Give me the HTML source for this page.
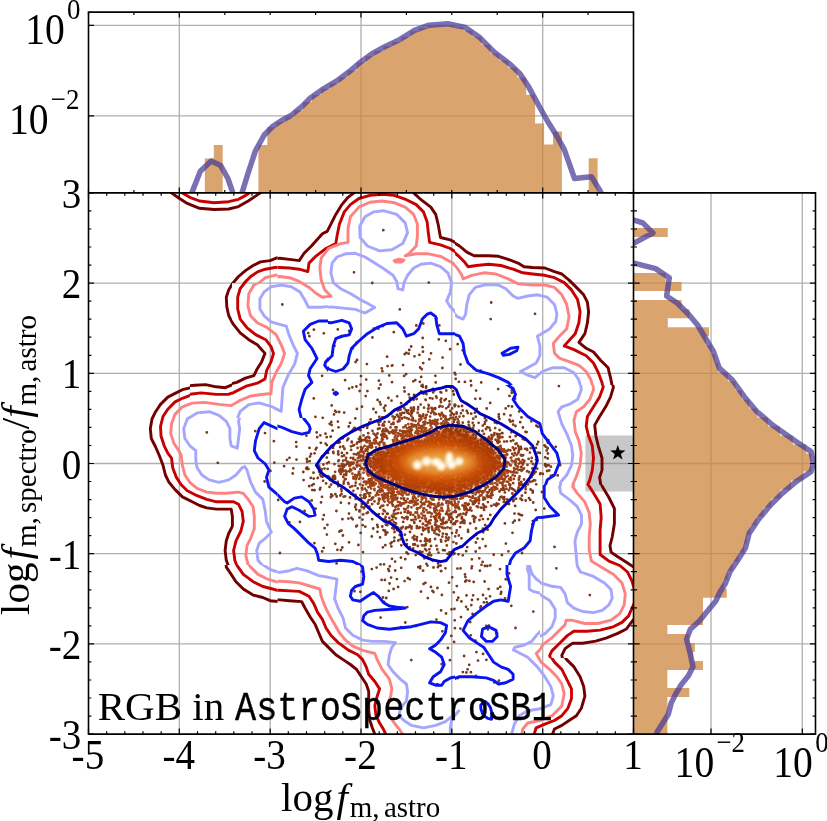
<!DOCTYPE html><html><head><meta charset="utf-8"><style>html,body{margin:0;padding:0;background:#fff;overflow:hidden}svg{display:block}</style></head><body>
<svg width="827" height="821" viewBox="0 0 827 821">
<rect width="827" height="821" fill="#fff"/>
<defs><clipPath id="cm"><rect x="88.5" y="192.9" width="545" height="541.2"/></clipPath><clipPath id="ct"><rect x="88.5" y="12.1" width="545" height="180.8"/></clipPath><clipPath id="cr"><rect x="633.5" y="192.9" width="182" height="541.2"/></clipPath></defs>
<path d="M179.3 192.9V734.1M179.3 12.1V192.9M270.2 192.9V734.1M361.0 192.9V734.1M361.0 12.1V192.9M451.8 192.9V734.1M542.7 192.9V734.1M542.7 12.1V192.9M88.5 643.9H633.5M633.5 643.9H815.5M88.5 553.7H633.5M633.5 553.7H815.5M88.5 463.5H633.5M633.5 463.5H815.5M88.5 373.3H633.5M633.5 373.3H815.5M88.5 283.1H633.5M633.5 283.1H815.5M88.5 25.4H633.5M88.5 115.8H633.5M802.3 192.9V734.1M711.0 192.9V734.1" stroke="#b0b0b0" stroke-width="1.3" fill="none"/>
<path d="M204.8 192.9V158.5H213.8V192.9ZM213.8 192.9V145.1H222.7V192.9ZM258.4 192.9V145.1H267.3V192.9ZM267.3 192.9V127.0H276.2V192.9ZM276.2 192.9V122.1H285.2V192.9ZM285.2 192.9V117.2H294.1V192.9ZM294.1 192.9V110.2H303.0V192.9ZM303.0 192.9V101.9H312.0V192.9ZM312.0 192.9V94.7H320.9V192.9ZM320.9 192.9V88.8H329.8V192.9ZM329.8 192.9V83.5H338.7V192.9ZM338.7 192.9V77.2H347.7V192.9ZM347.7 192.9V70.2H356.6V192.9ZM356.6 192.9V62.6H365.5V192.9ZM365.5 192.9V56.2H374.4V192.9ZM374.4 192.9V50.9H383.4V192.9ZM383.4 192.9V46.2H392.3V192.9ZM392.3 192.9V41.9H401.2V192.9ZM401.2 192.9V36.8H410.1V192.9ZM410.1 192.9V31.3H419.1V192.9ZM419.1 192.9V28.1H428.0V192.9ZM428.0 192.9V25.9H436.9V192.9ZM436.9 192.9V25.3H445.9V192.9ZM445.9 192.9V25.3H454.8V192.9ZM454.8 192.9V27.1H463.7V192.9ZM463.7 192.9V30.4H472.6V192.9ZM472.6 192.9V36.7H481.6V192.9ZM481.6 192.9V44.8H490.5V192.9ZM490.5 192.9V53.6H499.4V192.9ZM499.4 192.9V60.5H508.3V192.9ZM508.3 192.9V67.8H517.3V192.9ZM517.3 192.9V77.4H526.2V192.9ZM526.2 192.9V94.7H535.1V192.9ZM535.1 192.9V123.5H544.1V192.9ZM544.1 192.9V144.6H553.0V192.9ZM553.0 192.9V131.6H561.9V192.9ZM588.7 192.9V158.2H597.6V192.9Z" fill="#cd853f" fill-opacity="0.75"/>
<g clip-path="url(#ct)"><path d="M190.5 196.0L192.3 191.6L200.3 171.3L211.2 161.1L220.6 165.4L227.9 178.5L232.2 190.8L233.5 196.0M241.0 196.0L242.4 191.6L248.2 172.7L255.4 150.9L264.2 135.0L272.9 126.3L281.6 120.5L291.0 115.5L302.6 105.9L310.4 98.0L321.4 90.2L337.2 80.7L349.7 71.3L360.7 61.9L371.7 54.0L384.3 46.9L400.0 39.4L414.5 30.3L429.0 25.2L447.9 23.8L465.3 27.4L479.8 37.6L494.3 52.1L510.3 64.4L520.0 73.8L528.8 87.1L538.9 105.7L547.4 121.0L555.9 134.5L564.3 149.7L574.5 178.5L591.4 176.8L599.9 190.4L602.5 196.0" fill="none" stroke="#463a98" stroke-opacity="0.72" stroke-width="5.5" stroke-linejoin="round"/></g>
<path d="M633.5 228.0H667.8V237.0H633.5ZM633.5 273.1H665.6V282.1H633.5ZM633.5 282.1H681.6V291.1H633.5ZM633.5 300.1H681.6V309.2H633.5ZM633.5 309.2H689.4V318.2H633.5ZM633.5 318.2H667.8V327.2H633.5ZM633.5 327.2H709.0V336.2H633.5ZM633.5 336.2H705.9V345.2H633.5ZM633.5 345.2H711.4V354.3H633.5ZM633.5 354.3H715.0V363.3H633.5ZM633.5 363.3H718.2V372.3H633.5ZM633.5 372.3H727.9V381.3H633.5ZM633.5 381.3H735.6V390.3H633.5ZM633.5 390.3H742.0V399.4H633.5ZM633.5 399.4H749.3V408.4H633.5ZM633.5 408.4H757.5V417.4H633.5ZM633.5 417.4H768.0V426.4H633.5ZM633.5 426.4H779.9V435.4H633.5ZM633.5 435.4H792.8V444.5H633.5ZM633.5 444.5H806.2V453.5H633.5ZM633.5 453.5H811.3V462.5H633.5ZM633.5 462.5H811.4V471.5H633.5ZM633.5 471.5H803.5V480.5H633.5ZM633.5 480.5H791.1V489.6H633.5ZM633.5 489.6H780.5V498.6H633.5ZM633.5 498.6H771.4V507.6H633.5ZM633.5 507.6H763.6V516.6H633.5ZM633.5 516.6H756.4V525.6H633.5ZM633.5 525.6H750.4V534.7H633.5ZM633.5 534.7H746.7V543.7H633.5ZM633.5 543.7H744.3V552.7H633.5ZM633.5 552.7H738.7V561.7H633.5ZM633.5 561.7H732.7V570.7H633.5ZM633.5 570.7H727.6V579.8H633.5ZM633.5 579.8H723.9V588.8H633.5ZM633.5 588.8H726.8V597.8H633.5ZM633.5 597.8H703.0V606.8H633.5ZM633.5 606.8H703.0V615.8H633.5ZM633.5 615.8H703.0V624.9H633.5ZM633.5 624.9H667.4V633.9H633.5ZM633.5 633.9H689.0V642.9H633.5ZM633.5 642.9H694.8V651.9H633.5ZM633.5 651.9H693.0V660.9H633.5ZM633.5 660.9H703.0V670.0H633.5ZM633.5 670.0H667.4V679.0H633.5ZM633.5 679.0H667.4V688.0H633.5ZM633.5 688.0H689.3V697.0H633.5ZM633.5 697.0H667.4V706.0H633.5ZM633.5 706.0H667.4V715.1H633.5ZM633.5 715.1H667.4V724.1H633.5ZM633.5 724.1H667.4V734.1H633.5Z" fill="#cd853f" fill-opacity="0.75"/>
<g clip-path="url(#cr)"><path d="M630.0 219.5L634.0 220.2L642.8 222.9L652.9 233.0L642.8 238.4L634.0 243.0L630.0 245.0M630.0 262.5L634.0 263.1L655.6 268.6L669.3 277.8L666.6 296.0L677.5 303.3L688.5 314.3L697.6 325.0L706.2 339.5L713.4 351.4L719.3 368.1L732.4 380.0L744.3 396.7L756.3 411.0L772.9 425.3L796.7 442.0L811.0 451.5L813.4 463.4L811.0 471.7L796.7 481.2L782.5 493.1L770.5 505.0L758.6 519.3L749.1 533.6L745.5 547.9L739.6 557.4L730.0 571.7L725.3 583.6L720.0 592.0L715.8 601.0L706.7 611.9L699.4 621.0L690.3 629.3L686.6 639.3L690.3 653.9L693.0 666.7L688.4 675.8L681.1 684.9L675.6 694.1L671.1 703.2L668.3 714.2L657.4 731.5L655.0 738.0" fill="none" stroke="#463a98" stroke-opacity="0.72" stroke-width="5.5" stroke-linejoin="round"/></g>
<g clip-path="url(#cm)">
<rect x="585.4" y="435.5" width="48.1" height="56" fill="#808080" fill-opacity="0.43"/>
<defs><radialGradient id="rg" cx="0.5" cy="0.5" r="0.5"><stop offset="0" stop-color="#e49a3c"/><stop offset="0.3" stop-color="#da7a26"/><stop offset="0.65" stop-color="#cc5e1e"/><stop offset="1" stop-color="#bc4c18"/></radialGradient><filter id="bl" x="-50%" y="-50%" width="200%" height="200%"><feGaussianBlur stdDeviation="2"/></filter></defs>
<path d="M370.8 463.3L373.5 455.4L380.8 451.0L393.3 447.6L407.7 443.2L422.1 438.9L431.1 435.4L438.3 431.0L449.1 428.8L461.7 429.8L472.5 434.5L483.3 442.3L494.1 451.0L500.4 459.8L499.5 467.6L492.3 475.4L481.5 482.3L468.9 488.5L454.5 492.9L443.7 493.7L432.9 492.9L420.3 490.3L406.0 485.9L393.3 480.6L380.8 475.4L373.5 470.2Z" fill="url(#rg)" filter="url(#bl)"/>
<path d="M206.8 432.4h0M558.9 386.1h0M278.2 500.0h0M470.9 672.2h0M466.4 672.5h0M327.2 361.0h0M372.4 337.5h0M356.7 342.3h0M340.9 337.0h0M264.6 481.5h0M352.8 348.4h0M494.3 682.4h0M457.8 678.1h0M334.5 345.9h0M322.1 375.8h0M437.4 684.1h0M436.5 318.4h0M323.8 333.3h0M313.9 329.7h0M378.3 328.7h0M274.3 462.6h0M373.8 328.6h0M270.4 470.9h0M332.8 351.5h0M349.1 330.8h0M309.4 336.2h0M337.8 329.4h0M255.3 431.1h0M313.8 398.4h0M289.4 522.3h0M462.9 672.1h0M535.0 313.8h0M441.6 664.1h0M308.2 333.1h0M533.3 611.6h0M589.8 595.1h0M217.8 462.8h0M279.9 553.0h0M554.5 546.9h0M556.4 568.3h0M476.0 676.0h0M383.3 230.2h0M354.0 272.3h0M372.3 283.0h0M428.8 282.6h0M399.8 309.4h0M491.2 302.5h0M498.9 680.7h0M490.7 319.1h0M282.3 304.5h0M273.9 441.2h0M265.0 433.1h0M411.3 660.1h0M299.9 521.9h0M382.9 326.1h0M284.1 466.2h0M423.3 323.4h0M416.3 325.5h0M467.6 669.3h0M439.3 325.4h0M287.0 459.8h0M314.4 543.2h0M393.8 332.2h0M304.6 511.0h0M449.9 660.2h0M322.1 551.4h0M380.6 617.6h0M289.5 457.8h0M357.1 360.0h0M355.6 362.0h0M401.1 627.1h0M333.1 390.0h0M296.2 442.1h0M403.8 627.9h0M469.2 664.8h0M315.4 416.8h0M323.7 547.8h0M354.5 591.2h0M345.1 380.2h0M422.7 338.0h0M405.3 622.5h0M296.4 446.7h0M486.4 659.8h0M336.6 563.4h0M438.8 339.4h0M445.8 340.8h0M360.4 591.8h0M457.7 344.2h0M478.0 660.6h0M366.9 364.1h0M415.9 626.1h0M515.5 628.0h0M331.7 405.4h0M326.9 534.6h0M324.6 528.2h0M462.6 350.3h0M411.2 346.5h0M447.9 648.0h0M464.1 656.0h0M349.1 388.6h0M387.1 356.7h0M322.7 417.8h0M361.0 376.1h0M384.1 602.0h0M322.8 519.3h0M306.4 435.7h0M511.8 390.4h0M450.1 349.2h0M315.6 508.6h0M337.4 549.8h0M352.4 387.3h0M409.3 350.0h0M335.3 543.8h0M422.6 347.2h0M327.4 524.8h0M511.8 392.8h0M383.0 597.5h0M406.3 352.8h0M483.1 653.9h0M340.9 550.1h0M356.4 386.5h0M404.7 354.2h0M386.3 598.0h0M408.7 353.7h0M363.5 578.9h0M515.1 398.7h0M360.6 384.6h0M536.8 519.9h0M366.2 379.6h0M342.3 547.5h0M323.9 515.1h0M335.1 410.9h0M381.8 368.3h0M407.3 607.1h0M480.7 370.7h0M423.0 351.7h0M476.4 652.1h0M509.5 395.9h0M387.6 366.1h0M311.7 500.4h0M361.5 571.6h0M473.8 368.6h0M532.2 524.3h0M392.4 365.3h0M414.5 356.3h0M382.4 371.2h0M391.9 365.7h0M544.3 508.6h0M359.7 391.0h0M336.2 411.9h0M431.0 353.3h0M419.4 354.9h0M498.2 389.1h0M296.5 459.6h0M442.6 357.6h0M532.8 521.1h0M334.0 414.4h0M460.5 364.5h0M388.8 590.9h0M454.1 641.9h0M339.3 531.6h0M442.4 631.3h0M342.9 535.5h0M340.3 530.9h0M403.1 365.1h0M339.1 412.0h0M393.6 589.0h0M378.9 380.7h0M349.0 542.3h0M381.6 579.9h0M341.5 530.6h0M481.2 382.4h0M367.4 391.1h0M293.3 468.3h0M451.3 635.9h0M389.2 375.4h0M371.8 569.1h0M389.6 583.5h0M384.9 579.9h0M522.0 553.0h0M436.4 619.6h0M316.7 432.4h0M398.1 586.9h0M497.1 633.4h0M380.5 384.7h0M365.7 396.1h0M511.3 605.8h0M470.8 380.9h0M376.6 567.6h0M363.0 552.2h0M391.1 577.6h0M454.6 372.8h0M344.2 412.6h0M358.4 545.0h0M378.9 388.4h0M512.0 406.5h0M429.3 359.3h0M475.5 640.7h0M331.3 421.9h0M535.7 510.0h0M455.4 374.4h0M396.9 579.1h0M329.7 423.8h0M442.4 368.0h0M471.2 385.5h0M380.5 564.4h0M508.5 406.1h0M389.0 570.9h0M464.9 381.9h0M519.2 411.4h0M388.3 569.2h0M392.0 382.2h0M454.9 628.2h0M404.6 581.1h0M476.1 390.6h0M384.0 564.3h0M470.7 635.3h0M427.8 598.1h0M441.1 610.4h0M321.0 502.4h0M423.2 363.1h0M421.0 591.6h0M406.2 374.1h0M455.7 378.8h0M460.4 628.6h0M538.7 422.8h0M292.7 473.5h0M404.1 375.9h0M487.9 629.4h0M389.8 566.3h0M395.2 570.5h0M317.2 437.2h0M446.0 613.4h0M512.5 532.8h0M458.9 381.8h0M331.6 425.0h0M356.9 408.9h0M505.0 598.5h0M489.0 625.7h0M509.1 573.4h0M309.5 447.9h0M454.7 620.3h0M407.9 578.2h0M519.2 520.0h0M409.8 579.3h0M486.3 626.0h0M320.3 435.3h0M362.0 406.7h0M508.4 551.3h0M337.9 421.6h0M505.7 408.4h0M506.9 579.2h0M420.1 367.5h0M342.4 519.2h0M433.5 592.1h0M505.7 579.3h0M505.9 543.6h0M432.5 591.0h0M490.2 402.9h0M522.0 515.3h0M451.5 609.3h0M441.9 595.0h0M480.1 398.7h0M531.3 421.3h0M500.8 593.8h0M461.0 617.1h0M470.2 622.1h0M501.2 592.0h0M513.0 522.6h0M454.4 609.0h0M514.7 520.7h0M437.4 588.0h0M501.9 555.0h0M500.2 586.9h0M401.2 567.8h0M520.4 514.9h0M377.6 399.9h0M521.5 417.4h0M430.9 586.9h0M325.5 433.7h0M360.7 532.9h0M500.0 569.1h0M497.8 588.7h0M421.7 369.2h0M395.1 561.6h0M336.4 511.0h0M472.6 613.9h0M392.0 558.8h0M536.4 425.7h0M423.6 583.9h0M312.3 490.1h0M537.8 426.8h0M475.3 398.8h0M457.2 600.1h0M486.4 605.7h0M467.8 609.3h0M306.8 458.9h0M453.8 592.3h0M466.1 606.8h0M486.9 602.4h0M480.4 607.8h0M458.3 597.7h0M461.4 601.4h0M490.0 596.3h0M493.7 554.7h0M480.9 606.3h0M449.0 582.7h0M518.6 513.8h0M483.9 602.3h0M309.2 486.2h0M471.3 605.1h0M486.1 598.6h0M356.2 526.4h0M488.6 589.1h0M456.8 586.1h0M490.2 565.4h0M311.0 454.0h0M332.6 430.7h0M472.0 599.9h0M477.9 599.3h0M425.4 582.8h0M483.0 595.0h0M466.5 595.4h0M510.5 415.4h0M452.2 577.3h0M303.6 480.1h0M487.3 566.0h0M348.4 518.6h0M322.0 496.8h0M533.2 502.5h0M473.1 595.3h0M379.8 402.1h0M314.6 490.2h0M484.6 581.5h0M310.0 456.6h0M484.9 566.0h0M504.9 523.4h0M357.0 525.6h0M338.5 427.3h0M307.1 461.7h0M382.9 547.3h0M482.6 561.9h0M465.2 581.5h0M316.6 447.8h0M481.5 564.8h0M466.4 580.5h0M320.8 442.8h0M485.6 546.2h0M465.4 577.1h0M479.9 570.7h0M469.4 580.9h0M473.7 581.9h0M465.0 574.4h0M479.3 558.3h0M315.7 449.4h0M326.7 437.2h0M471.6 568.3h0M472.0 566.3h0M504.1 414.2h0M460.5 568.4h0M457.4 568.6h0M555.7 446.8h0M435.4 375.8h0M371.8 536.5h0M471.9 559.3h0M388.4 398.0h0M514.5 513.6h0M355.3 418.4h0M479.6 548.0h0M486.7 408.5h0M475.7 551.5h0M451.0 387.8h0M314.6 453.3h0M352.7 519.3h0M380.6 404.4h0M404.3 387.6h0M309.6 461.2h0M520.2 422.2h0M548.4 440.2h0M373.4 409.0h0M312.0 485.3h0M351.4 517.9h0M413.3 381.3h0M441.3 571.1h0M441.0 571.1h0M415.3 380.1h0M445.5 568.3h0M350.0 422.9h0M560.2 465.2h0M498.8 414.4h0M330.7 436.7h0M385.3 545.2h0M482.7 539.1h0M400.9 557.7h0M453.1 391.2h0M462.8 555.3h0M303.3 472.0h0M421.2 376.9h0M307.1 467.3h0M306.2 468.5h0M362.6 525.2h0M541.9 492.0h0M466.2 551.2h0M530.3 499.9h0M512.9 421.0h0M547.7 442.5h0M475.9 542.5h0M365.3 526.7h0M325.7 443.6h0M405.3 559.2h0M349.0 513.6h0M509.5 420.0h0M313.7 484.1h0M397.2 396.3h0M319.9 489.5h0M391.5 400.6h0M348.7 426.5h0M487.6 529.7h0M458.5 554.3h0M557.7 475.4h0M477.5 538.6h0M404.6 391.5h0M380.1 537.4h0M498.8 416.9h0M307.7 469.2h0M467.2 547.1h0M453.8 394.5h0M391.4 546.4h0M510.5 421.7h0M440.6 565.6h0M308.4 468.9h0M437.9 567.2h0M483.2 532.2h0M522.9 427.5h0M385.4 405.7h0M418.3 567.2h0M326.9 445.1h0M476.8 408.8h0M330.9 497.2h0M435.7 382.4h0M423.1 570.7h0M438.8 565.8h0M525.7 500.5h0M420.2 568.3h0M529.0 498.2h0M446.3 390.5h0M419.9 381.8h0M376.0 412.4h0M320.4 487.8h0M547.5 447.9h0M547.7 448.3h0M383.9 407.9h0M453.6 554.2h0M454.5 553.5h0M390.6 543.5h0M499.4 419.1h0M545.5 446.5h0M544.5 445.4h0M513.1 424.6h0M515.2 505.9h0M433.5 567.5h0M359.5 517.6h0M515.5 426.0h0M310.8 477.9h0M461.7 546.9h0M373.2 528.5h0M420.3 566.3h0M377.5 531.8h0M475.9 534.8h0M362.5 519.6h0M483.0 528.6h0M526.6 432.1h0M438.1 563.4h0M340.9 502.7h0M546.7 450.4h0M449.7 554.8h0M525.5 431.8h0M460.4 546.6h0M332.4 495.7h0M391.8 542.3h0M547.9 453.5h0M331.2 494.4h0M522.0 500.0h0M552.6 475.4h0M452.1 551.8h0M538.2 442.0h0M485.2 525.2h0M322.1 456.4h0M532.7 492.5h0M313.7 478.6h0M353.8 428.3h0M331.5 445.8h0M550.9 466.7h0M406.5 552.5h0M408.1 553.8h0M384.8 410.6h0M447.5 553.8h0M354.8 428.0h0M408.8 394.4h0M449.6 552.2h0M550.9 475.8h0M547.7 458.5h0M385.6 534.7h0M370.7 419.4h0M462.0 406.0h0M422.5 385.0h0M532.8 490.9h0M336.7 496.5h0M421.5 385.9h0M352.4 430.6h0M353.4 430.0h0M474.9 412.7h0M394.2 540.9h0M440.5 392.1h0M333.5 445.8h0M441.2 392.6h0M548.6 465.2h0M537.1 444.3h0M520.5 498.6h0M337.4 442.6h0M377.8 527.1h0M545.2 457.3h0M342.8 438.3h0M352.8 431.1h0M549.3 470.4h0M328.1 452.9h0M355.0 429.9h0M335.4 494.2h0M427.5 565.6h0M476.0 528.4h0M401.3 545.3h0M319.0 465.6h0M488.0 519.1h0M313.5 472.7h0M333.0 447.9h0M356.2 509.6h0M422.9 386.8h0M456.3 543.5h0M546.9 465.3h0M385.4 531.9h0M484.9 418.2h0M363.2 514.4h0M338.9 442.8h0M383.4 530.1h0M401.1 403.2h0M359.4 511.4h0M497.0 423.2h0M317.7 478.0h0M339.8 442.2h0M377.3 525.0h0M432.7 560.5h0M458.6 406.4h0M509.0 504.1h0M379.3 416.9h0M494.9 422.6h0M349.0 503.3h0M369.4 422.5h0M432.8 388.9h0M461.5 538.3h0M387.3 532.6h0M363.3 426.1h0M409.7 397.7h0M426.4 563.8h0M385.1 530.7h0M466.8 411.0h0M546.1 466.4h0M415.7 555.1h0M513.3 501.2h0M414.0 394.8h0M521.9 495.7h0M434.3 390.5h0M449.4 401.3h0M454.7 404.7h0M545.2 464.2h0M359.5 510.5h0M326.8 457.6h0M319.5 467.6h0M547.1 471.0h0M394.4 537.6h0M530.6 489.5h0M455.4 405.3h0M445.8 399.1h0M539.9 452.9h0M444.8 550.3h0M398.3 540.5h0M545.0 465.3h0M355.2 507.0h0M535.9 447.9h0M468.1 531.8h0M471.2 413.7h0M525.4 492.7h0M363.2 427.0h0M426.2 386.4h0" stroke="#6c2706" stroke-width="2.8" stroke-linecap="round" fill="none" stroke-opacity="0.92"/>
<path d="M359.3 429.4h0M329.5 486.9h0M507.9 503.7h0M516.0 498.7h0M367.6 424.6h0M340.3 495.5h0M490.3 514.9h0M372.2 519.2h0M519.9 435.3h0M536.2 484.3h0M513.7 499.9h0M486.3 420.4h0M323.1 480.8h0M326.1 483.4h0M382.3 526.5h0M443.0 550.2h0M462.7 410.4h0M453.4 542.1h0M323.4 464.6h0M333.2 451.9h0M421.1 391.5h0M538.0 452.7h0M482.9 519.1h0M454.7 406.3h0M426.0 387.8h0M467.8 413.2h0M517.2 434.7h0M411.7 398.7h0M475.8 416.7h0M382.2 417.4h0M406.7 545.1h0M319.7 470.4h0M367.8 425.6h0M524.9 439.9h0M444.5 400.3h0M343.7 496.7h0M438.5 552.6h0M468.0 529.8h0M433.2 392.4h0M409.8 547.2h0M416.7 395.6h0M360.5 430.2h0M319.1 471.7h0M522.8 438.9h0M348.2 438.7h0M366.7 513.2h0M441.3 398.6h0M333.5 453.0h0M418.0 553.3h0M511.4 432.3h0M400.6 539.3h0M449.6 404.4h0M424.4 558.3h0M446.8 545.4h0M429.9 390.7h0M321.7 469.1h0M479.5 520.0h0M409.2 401.7h0M406.9 544.1h0M355.9 504.7h0M341.5 493.9h0M347.2 440.3h0M383.8 417.7h0M458.8 535.5h0M506.4 502.1h0M413.1 548.3h0M406.6 404.1h0M391.2 413.7h0M321.0 476.2h0M422.8 556.0h0M340.2 447.0h0M413.7 399.3h0M345.2 496.3h0M485.0 421.8h0M428.2 558.3h0M436.1 396.4h0M327.1 463.3h0M321.4 471.2h0M368.0 512.4h0M413.7 399.8h0M367.1 427.8h0M331.2 484.6h0M397.9 410.5h0M377.9 421.8h0M440.6 400.1h0M320.1 474.4h0M431.1 555.3h0M322.6 476.7h0M515.6 436.2h0M537.0 457.1h0M525.6 489.2h0M530.7 448.1h0M542.9 473.9h0M394.5 532.0h0M474.2 521.8h0M328.8 462.2h0M436.6 397.8h0M427.3 557.7h0M399.6 409.9h0M455.2 536.3h0M324.5 468.6h0M322.9 476.3h0M363.8 508.3h0M423.6 393.8h0M385.8 524.6h0M361.7 506.7h0M425.0 392.7h0M400.8 409.6h0M416.6 399.0h0M437.3 549.5h0M378.4 422.4h0M380.4 421.4h0M419.8 551.3h0M452.1 408.4h0M399.7 535.1h0M481.5 515.7h0M503.8 501.9h0M338.2 451.5h0M387.3 525.2h0M535.1 480.4h0M343.2 446.5h0M420.9 551.8h0M480.8 516.0h0M460.9 413.3h0M429.2 554.9h0M448.4 406.7h0M470.2 523.4h0M350.0 497.5h0M473.2 418.7h0M507.3 499.4h0M406.8 540.1h0M404.3 408.2h0M441.0 402.2h0M401.3 535.6h0M536.1 459.7h0M496.3 505.8h0M341.5 490.8h0M448.1 539.8h0M392.3 528.2h0M474.2 519.9h0M540.5 473.2h0M428.1 554.7h0M534.2 480.2h0M413.3 544.5h0M498.5 504.1h0M422.5 551.8h0M324.5 475.8h0M364.6 507.1h0M495.2 428.1h0M499.6 430.0h0M447.9 539.3h0M445.7 541.0h0M394.2 529.0h0M540.2 474.1h0M484.7 423.9h0M525.6 486.8h0M532.7 481.2h0M456.3 532.6h0M474.0 519.2h0M497.2 504.4h0M376.9 515.5h0M496.3 504.9h0M429.6 552.7h0M426.5 394.2h0M456.6 412.5h0M338.2 454.0h0M392.6 416.4h0M448.9 537.6h0M330.0 479.9h0M415.0 544.7h0M394.5 528.4h0M400.0 532.6h0M475.5 517.5h0M397.2 530.3h0M414.6 544.1h0M341.3 489.1h0M327.7 468.9h0M527.9 484.3h0M432.5 398.6h0M529.9 452.6h0M338.5 454.6h0M333.2 482.1h0M525.4 485.9h0M537.2 468.6h0M463.4 416.2h0M351.7 441.6h0M526.8 449.0h0M504.5 499.3h0M417.8 546.0h0M362.1 503.8h0M530.3 481.9h0M338.3 486.2h0M456.8 530.3h0M527.2 449.9h0M384.2 519.4h0M436.5 545.8h0M393.3 526.2h0M397.2 414.8h0M397.0 415.0h0M355.7 498.9h0M527.7 483.6h0M344.5 448.6h0M386.0 520.4h0M496.7 503.4h0M385.7 520.2h0M478.6 422.8h0M446.2 408.3h0M379.0 424.8h0M368.5 507.6h0M327.7 476.2h0M441.2 541.7h0M460.1 527.1h0M430.0 398.1h0M509.9 436.9h0M384.6 422.0h0M494.1 504.7h0M344.4 449.1h0M404.9 534.7h0M456.6 413.8h0M405.9 410.2h0M334.8 482.5h0M400.2 413.6h0M452.0 533.1h0M351.8 442.4h0M446.1 537.5h0M531.7 457.9h0M450.3 411.0h0M525.1 448.8h0M502.4 433.2h0M491.4 505.9h0M442.5 406.7h0M329.1 477.0h0M331.1 478.8h0M518.0 490.0h0M388.9 521.6h0M378.9 514.2h0M464.5 523.1h0M512.3 493.5h0M402.4 412.8h0M363.1 503.0h0M484.1 509.9h0M501.8 433.2h0M365.1 504.3h0M489.4 427.8h0M341.9 452.9h0M411.0 408.0h0M473.7 516.2h0M389.4 521.4h0M440.0 405.9h0M429.4 549.3h0M503.1 498.6h0M395.0 417.2h0M360.1 437.0h0M487.4 427.1h0M426.4 550.4h0M397.6 527.4h0M359.3 499.8h0M425.1 549.1h0M534.6 467.9h0M535.7 471.8h0M522.8 485.8h0M440.9 539.8h0M369.5 506.6h0M482.8 425.6h0M472.7 516.2h0M463.3 522.8h0M395.1 525.1h0M533.0 464.1h0M408.3 410.3h0M515.1 490.9h0M383.0 424.1h0M513.2 440.4h0M333.0 478.9h0M363.5 435.4h0M404.2 412.9h0M334.5 464.2h0M459.5 416.6h0M414.2 539.5h0M351.1 493.4h0M446.8 534.5h0M525.6 483.2h0M413.8 407.4h0M451.7 413.2h0M425.5 399.6h0M525.4 483.3h0M531.4 461.4h0M407.0 411.6h0M347.7 490.6h0M400.9 415.0h0M398.3 416.5h0M504.2 497.1h0M523.4 484.6h0M422.0 545.3h0M439.3 406.8h0M385.6 517.0h0M358.9 439.0h0M464.4 520.9h0M400.6 528.2h0M453.9 414.5h0M412.7 537.7h0M393.9 419.0h0M516.5 443.4h0M499.3 499.7h0M431.0 546.0h0M520.8 447.0h0M528.4 480.4h0M425.7 400.1h0M464.3 520.7h0M446.2 534.1h0M401.5 528.5h0M518.6 487.7h0M389.0 421.8h0M461.9 522.2h0M368.2 433.2h0M520.9 447.6h0M337.8 482.0h0M485.9 506.9h0M416.9 540.4h0M442.4 536.6h0M460.6 522.9h0M531.6 477.0h0M372.5 430.8h0M462.0 521.8h0M382.5 425.4h0M333.1 477.6h0M360.3 438.6h0M394.0 522.2h0M461.4 522.2h0M411.9 409.7h0M483.5 508.0h0M533.4 470.2h0M534.3 473.3h0M396.0 523.5h0M424.1 545.5h0M351.0 446.3h0M382.8 513.8h0M391.7 520.2h0M472.7 422.8h0M414.0 408.7h0M522.4 484.4h0M338.9 460.3h0M355.5 495.0h0M338.3 461.1h0M420.7 404.6h0M342.0 456.3h0M532.4 468.5h0M335.1 478.8h0M528.6 458.9h0M407.4 412.7h0M463.5 520.0h0M389.3 518.0h0M521.2 448.9h0M412.6 409.9h0M532.8 475.0h0M518.1 446.0h0M367.6 503.0h0M359.9 439.6h0M333.0 476.4h0M515.5 444.0h0M399.5 417.4h0M392.4 519.8h0M416.6 538.5h0M499.4 434.4h0M532.8 471.8h0M532.9 472.2h0M490.2 430.3h0M418.2 407.1h0M361.5 498.4h0M384.0 425.5h0M510.9 441.1h0M411.2 411.4h0M402.7 527.0h0M468.6 422.0h0M420.6 541.1h0M353.2 445.5h0M520.5 484.8h0M425.7 545.0h0M414.3 536.0h0M456.0 417.1h0M450.2 528.2h0M501.6 496.7h0M519.1 447.9h0M378.0 429.0h0M442.9 533.7h0M500.5 497.2h0M354.1 445.1h0M497.1 433.8h0M344.0 455.5h0M486.0 429.0h0M357.5 442.3h0M410.0 532.0h0M513.4 489.4h0M481.1 507.7h0M379.6 428.4h0M405.7 528.5h0M497.1 433.9h0M435.1 539.0h0M360.1 440.5h0M367.9 501.8h0M455.0 524.0h0M335.1 476.9h0M417.0 537.1h0M520.2 484.4h0M450.6 415.3h0M484.0 505.8h0M413.5 411.0h0M519.3 485.0h0M411.4 412.3h0M408.9 413.7h0M519.2 449.0h0M361.4 440.0h0M372.2 504.1h0M361.2 440.1h0M426.0 543.6h0M435.3 408.2h0M334.4 475.6h0M494.4 433.1h0M356.8 443.6h0M343.6 483.7h0M359.2 441.8h0M502.4 437.2h0M347.0 453.2h0M461.7 518.4h0M387.0 513.7h0M438.8 535.0h0M453.4 524.1h0M406.3 527.5h0" stroke="#792b05" stroke-width="2.8" stroke-linecap="round" fill="none" stroke-opacity="0.92"/>
<path d="M429.8 541.6h0M454.4 523.1h0M457.3 521.1h0M418.0 409.3h0M434.7 408.4h0M387.8 513.8h0M353.4 490.8h0M428.6 404.9h0M402.0 418.1h0M456.2 521.5h0M383.9 510.9h0M457.7 419.1h0M335.1 471.8h0M392.7 516.8h0M393.2 517.2h0M456.1 521.4h0M447.6 527.4h0M364.0 497.8h0M360.3 495.3h0M399.1 419.7h0M523.2 455.1h0M411.8 413.2h0M338.7 466.0h0M430.0 540.5h0M393.4 422.6h0M365.7 437.9h0M435.0 409.1h0M385.0 511.3h0M361.0 441.2h0M434.4 408.8h0M428.8 405.7h0M391.9 515.8h0M473.8 425.4h0M351.1 449.9h0M465.8 514.7h0M425.0 540.9h0M364.9 498.0h0M395.9 518.4h0M461.9 516.9h0M453.2 417.7h0M522.9 455.4h0M500.3 436.9h0M383.5 509.9h0M408.1 527.3h0M380.2 507.7h0M404.6 417.4h0M367.3 437.1h0M441.8 413.0h0M478.2 507.2h0M487.9 502.1h0M527.5 464.9h0M401.8 418.8h0M521.3 481.8h0M445.0 528.1h0M429.9 539.5h0M465.9 514.0h0M368.7 500.1h0M363.3 440.1h0M393.9 516.5h0M524.1 479.5h0M511.7 488.5h0M471.5 510.6h0M431.5 408.0h0M436.6 534.2h0M432.9 408.8h0M483.1 504.4h0M365.5 438.6h0M368.1 437.0h0M343.1 460.7h0M350.2 487.0h0M391.4 424.2h0M508.8 490.2h0M518.8 451.0h0M529.1 472.2h0M427.3 540.8h0M373.6 433.7h0M411.0 414.8h0M411.4 528.6h0M424.0 407.7h0M439.6 531.3h0M519.1 483.0h0M504.9 492.4h0M506.9 441.4h0M497.8 436.2h0M343.9 481.5h0M477.9 506.6h0M409.3 526.7h0M515.6 448.3h0M403.2 521.9h0M343.9 481.3h0M397.7 421.7h0M443.1 528.0h0M340.8 465.8h0M451.0 522.3h0M466.6 512.4h0M518.7 451.9h0M425.3 538.4h0M342.2 463.8h0M346.1 458.0h0M499.9 437.7h0M427.0 539.7h0M393.6 423.9h0M368.8 437.3h0M524.4 460.8h0M365.7 496.9h0M521.4 455.7h0M399.6 421.1h0M363.8 495.5h0M520.8 454.9h0M454.9 419.6h0M443.3 415.1h0M451.1 521.4h0M463.3 513.7h0M450.6 418.1h0M442.3 527.5h0M411.2 526.6h0M462.8 422.7h0M411.3 415.8h0M410.0 525.6h0M476.7 506.3h0M494.2 435.1h0M411.7 526.8h0M348.5 484.1h0M499.2 437.7h0M417.7 412.7h0M458.4 421.2h0M383.1 429.5h0M428.6 408.5h0M406.7 418.1h0M445.6 416.3h0M371.0 499.7h0M468.7 425.0h0M527.3 471.2h0M456.9 517.1h0M421.8 534.3h0M339.2 470.5h0M340.1 468.8h0M434.4 532.8h0M438.5 529.7h0M469.0 510.1h0M441.8 527.3h0M498.0 437.2h0M432.2 410.6h0M393.7 513.6h0M440.9 414.6h0M438.6 529.4h0M378.0 503.7h0M527.0 471.3h0M523.9 461.9h0M345.6 460.2h0M381.7 505.9h0M428.0 408.6h0M365.4 440.4h0M374.5 501.4h0M369.4 437.8h0M510.1 487.8h0M452.8 519.1h0M458.9 515.3h0M470.2 509.0h0M339.4 471.5h0M432.6 411.3h0M522.7 459.9h0M438.9 414.1h0M518.2 453.0h0M512.8 447.5h0M385.7 428.7h0M453.8 420.0h0M459.9 514.5h0M460.5 514.1h0M352.3 486.2h0M342.2 466.6h0M395.5 513.9h0M378.5 503.3h0M348.1 482.8h0M458.4 515.1h0M467.3 510.1h0M340.3 470.5h0M446.8 522.3h0M434.6 531.0h0M469.3 425.8h0M364.6 494.4h0M445.2 523.0h0M482.5 430.9h0M443.4 416.5h0M504.2 441.6h0M446.5 522.0h0M440.0 415.3h0M416.8 528.1h0M343.8 465.0h0M434.3 412.9h0M383.3 505.6h0M377.6 433.5h0M491.1 497.8h0M435.8 529.3h0M440.2 415.5h0M365.0 494.4h0M402.1 517.3h0M439.4 526.4h0M491.5 435.0h0M442.7 524.0h0M404.2 518.4h0M470.5 507.7h0M365.4 494.4h0M376.5 434.4h0M448.8 519.8h0M514.1 449.8h0M438.0 527.0h0M344.9 479.0h0M435.9 528.5h0M443.0 523.4h0M357.6 448.0h0M372.4 498.6h0M457.5 422.2h0M435.8 414.1h0M375.4 435.2h0M478.8 503.3h0M435.9 528.0h0M382.3 431.5h0M473.2 427.8h0M390.5 427.4h0M408.8 419.0h0M522.8 463.5h0M441.2 524.1h0M418.8 528.0h0M449.0 419.4h0M342.6 469.1h0M504.1 490.1h0M343.8 466.9h0M343.2 476.9h0M466.7 509.0h0M506.4 488.7h0M432.4 530.0h0M345.8 479.1h0M397.8 513.2h0M372.2 497.9h0M341.6 471.6h0M451.4 517.2h0M416.9 526.1h0M394.0 510.8h0M357.7 488.4h0M369.6 496.2h0M386.5 429.6h0M407.3 519.1h0M522.8 464.5h0M524.0 468.5h0M434.5 414.2h0M367.4 440.7h0M340.7 474.0h0M449.4 518.0h0M423.3 530.5h0M464.5 509.7h0M518.8 479.8h0M443.0 522.0h0M450.5 517.3h0M428.7 532.0h0M428.2 411.6h0M445.6 418.6h0M347.5 461.6h0M431.1 413.1h0M342.3 471.5h0M384.0 431.2h0M412.7 418.0h0M423.0 529.6h0M521.9 463.2h0M420.0 527.3h0M492.1 436.2h0M345.6 465.2h0M414.4 522.9h0M450.6 516.5h0M458.8 423.5h0M419.6 415.1h0M457.9 423.1h0M432.3 528.3h0M436.4 525.3h0M406.2 517.1h0M449.1 517.1h0M478.9 430.7h0M442.2 521.3h0M447.3 419.6h0M428.4 530.7h0M423.3 528.8h0M355.3 485.7h0M414.2 522.1h0M373.2 497.4h0M411.4 520.1h0M516.6 454.8h0M510.1 485.4h0M343.3 471.0h0M350.7 457.8h0M453.8 422.0h0M406.8 517.0h0M513.2 483.2h0M379.0 500.7h0M407.7 517.5h0M366.7 442.2h0M464.6 508.5h0M347.3 463.5h0M400.8 512.9h0M419.3 415.9h0M422.9 527.6h0M498.4 440.0h0M520.4 461.8h0M499.5 491.5h0M353.9 454.1h0M519.1 478.3h0M425.2 529.2h0M483.3 499.7h0M489.6 496.6h0M514.8 452.9h0M360.9 447.1h0M485.1 498.8h0M395.5 509.6h0M473.8 504.0h0M445.4 419.5h0M435.0 524.7h0M387.6 505.1h0M492.6 495.0h0M443.2 519.3h0M412.9 418.9h0M431.9 526.6h0M423.2 414.5h0M510.3 484.7h0M472.9 504.2h0M502.1 489.8h0M428.6 528.5h0M487.9 497.2h0M455.9 512.1h0M478.8 431.2h0M499.5 491.2h0M465.9 507.3h0M518.9 459.7h0M470.2 428.1h0M413.3 519.8h0M386.1 431.2h0M429.0 527.8h0M522.4 469.9h0M518.4 459.0h0M344.0 474.7h0M492.2 437.1h0M368.8 493.7h0M348.7 462.5h0M362.5 489.6h0M440.8 519.9h0M411.6 419.9h0M489.5 496.2h0M464.2 507.7h0M521.5 467.1h0M451.4 513.7h0M369.7 440.9h0M474.7 502.9h0M387.6 430.7h0M427.5 528.0h0M441.1 418.7h0M490.8 495.4h0M420.2 416.6h0M443.4 517.9h0M435.6 522.5h0M367.5 492.6h0M448.4 515.0h0M503.6 488.3h0M503.3 488.5h0M453.7 512.1h0M345.5 470.7h0M437.0 521.0h0M450.0 513.8h0M517.8 459.2h0M520.9 466.8h0M479.1 500.5h0M348.7 463.9h0M501.2 489.5h0M465.4 506.5h0M421.9 416.3h0M483.9 433.9h0M395.4 427.4h0M423.2 415.8h0M499.6 441.7h0M415.8 519.3h0M376.5 437.1h0M459.3 509.1h0M519.6 476.4h0M422.9 523.9h0M435.7 521.2h0M509.1 484.5h0M423.0 523.9h0M521.6 470.8h0M398.3 509.1h0M345.4 474.8h0M425.6 525.5h0M455.4 510.7h0M378.9 498.6h0M384.5 501.6h0M349.0 464.3h0M398.5 509.0h0M487.4 496.4h0M461.3 425.8h0M379.7 498.9h0M362.1 488.2h0M426.7 414.8h0M495.6 439.7h0M468.2 504.9h0M510.4 450.3h0M420.1 521.1h0M413.0 420.4h0M484.6 497.6h0M476.3 501.3h0M346.2 475.1h0M392.8 505.7h0M396.6 427.3h0M404.7 511.9h0M370.2 493.2h0M439.5 517.9h0M430.0 523.4h0M353.3 457.9h0M427.3 524.9h0M395.5 506.9h0M364.6 445.9h0M426.2 415.4h0M381.2 434.9h0M410.5 514.7h0M382.9 434.0h0M518.9 463.6h0M356.2 454.4h0M407.6 512.9h0M362.6 447.8h0M366.4 490.5h0M415.2 517.0h0M392.9 505.2h0M436.2 519.0h0M464.0 506.1h0M446.0 513.9h0M491.3 494.0h0M458.8 508.2h0M346.2 473.1h0M346.8 471.6h0M361.4 449.1h0M520.4 469.9h0M483.3 497.6h0M355.8 482.7h0M356.5 454.4h0M430.1 416.6h0M468.8 503.9h0M438.8 517.0h0M435.1 518.9h0M462.7 426.9h0M383.3 434.1h0M497.6 441.4h0M439.6 516.4h0M353.2 459.1h0M489.0 436.9h0M498.1 441.8h0M428.0 522.6h0" stroke="#862e05" stroke-width="2.8" stroke-linecap="round" fill="none" stroke-opacity="0.92"/>
<path d="M505.6 485.7h0M383.0 499.5h0M447.1 512.7h0M408.5 512.4h0M375.8 495.5h0M413.3 514.9h0M418.6 517.8h0M503.0 487.3h0M377.0 437.8h0M428.0 522.1h0M446.4 422.0h0M467.1 504.2h0M358.1 453.0h0M513.8 455.6h0M349.6 466.2h0M427.9 522.1h0M351.2 463.0h0M389.3 502.6h0M473.8 501.4h0M361.3 449.7h0M351.5 462.5h0M435.2 517.9h0M430.7 520.2h0M396.8 506.2h0M477.0 500.0h0M452.7 424.0h0M421.2 418.4h0M429.0 521.0h0M472.6 501.8h0M443.5 421.3h0M425.8 521.2h0M396.8 506.0h0M456.7 425.3h0M497.2 441.6h0M374.8 439.4h0M486.9 495.4h0M365.0 488.6h0M478.9 499.0h0M384.4 434.0h0M392.0 503.5h0M410.7 512.7h0M512.2 453.9h0M419.2 419.4h0M369.6 443.1h0M408.1 511.2h0M508.4 450.0h0M437.7 419.8h0M457.5 507.5h0M422.0 518.1h0M419.4 516.7h0M515.8 459.6h0M350.9 464.8h0M435.7 516.5h0M462.5 505.4h0M476.1 499.9h0M361.4 450.2h0M449.3 510.6h0M351.5 463.8h0M440.1 514.3h0M415.5 421.0h0M435.8 516.2h0M447.0 511.4h0M360.3 451.5h0M404.1 508.8h0M405.7 509.5h0M388.6 432.3h0M421.4 419.0h0M458.3 506.9h0M392.8 430.3h0M398.2 505.9h0M418.4 515.4h0M359.0 453.1h0M433.9 516.7h0M462.0 427.4h0M359.9 484.3h0M424.8 518.7h0M374.2 440.4h0M439.2 514.2h0M387.9 500.8h0M424.7 417.9h0M425.7 417.6h0M491.8 439.1h0M513.8 478.9h0M426.0 518.7h0M459.9 426.8h0M349.2 471.0h0M448.1 423.3h0M408.3 424.1h0M445.7 422.7h0M455.3 507.5h0M437.3 514.5h0M518.5 469.9h0M362.1 450.3h0M452.7 424.7h0M517.8 466.9h0M438.6 513.7h0M517.7 466.4h0M353.4 478.6h0M466.0 503.3h0M398.6 505.3h0M431.0 516.6h0M405.7 425.4h0M507.8 450.5h0M435.1 420.0h0M382.6 497.5h0M350.3 469.2h0M490.1 438.6h0M497.9 443.0h0M415.5 512.5h0M391.4 501.7h0M492.3 491.8h0M515.9 462.1h0M464.9 503.5h0M439.1 512.9h0M425.4 418.5h0M349.7 471.6h0M384.7 498.3h0M466.9 429.4h0M423.1 515.6h0M417.1 512.9h0M383.5 497.7h0M362.7 485.4h0M491.8 492.0h0M382.7 436.0h0M390.0 432.3h0M419.2 420.8h0M456.8 506.2h0M350.3 470.9h0M353.6 462.6h0M353.0 463.9h0M378.5 494.8h0M424.9 515.8h0M503.0 485.7h0M401.0 505.5h0M389.8 432.6h0M417.0 512.3h0M442.6 510.9h0M452.8 425.3h0M510.9 480.2h0M419.9 420.7h0M394.1 430.6h0M464.6 429.0h0M435.7 513.1h0M469.7 430.7h0M448.0 508.8h0M421.4 513.6h0M355.4 460.1h0M475.2 498.9h0M355.7 479.3h0M391.1 432.2h0M466.5 429.7h0M456.3 426.5h0M411.5 423.9h0M508.3 481.8h0M396.4 429.8h0M383.6 497.0h0M497.2 488.7h0M462.7 428.5h0M367.3 446.8h0M431.8 513.7h0M490.4 439.4h0M476.0 498.4h0M351.3 470.0h0M388.5 499.2h0M372.4 442.9h0M370.1 444.6h0M389.3 433.2h0M375.7 440.7h0M407.8 507.5h0M391.4 432.2h0M448.3 508.2h0M355.5 478.7h0M405.4 426.4h0M354.3 477.7h0M392.8 501.1h0M353.4 476.8h0M470.5 500.4h0M478.7 497.1h0M377.3 493.4h0M358.8 455.8h0M440.0 510.6h0M515.9 465.4h0M431.1 513.3h0M370.6 444.4h0M488.3 438.5h0M434.7 512.1h0M487.9 493.1h0M492.1 491.0h0M517.1 472.7h0M494.6 489.7h0M516.6 468.9h0M401.5 504.4h0M515.4 464.3h0M500.6 445.9h0M382.2 437.1h0M385.2 497.2h0M385.5 435.4h0M387.6 498.3h0M472.3 432.1h0M403.4 427.4h0M435.0 421.3h0M514.2 461.6h0M359.6 455.3h0M432.8 420.8h0M382.4 437.1h0M455.5 426.8h0M458.2 427.6h0M454.5 505.4h0M376.9 492.6h0M436.7 421.9h0M434.4 511.3h0M377.1 492.7h0M427.9 512.8h0M429.6 512.4h0M369.5 445.8h0M382.7 495.6h0M435.5 421.6h0M457.6 504.3h0M423.9 512.0h0M437.0 510.4h0M434.5 511.1h0M427.7 512.7h0M470.0 431.5h0M514.8 475.8h0M357.9 458.2h0M429.9 420.5h0M362.9 452.0h0M481.4 495.4h0M400.0 503.1h0M506.3 451.1h0M449.1 425.2h0M400.2 503.1h0M417.4 509.4h0M435.6 421.9h0M401.9 503.8h0M408.4 506.2h0M423.1 511.1h0M411.5 507.3h0M368.5 446.8h0M381.8 494.8h0M365.7 449.4h0M442.1 423.5h0M416.9 508.9h0M451.6 426.0h0M368.4 487.1h0M495.1 488.8h0M353.6 468.0h0M511.3 457.6h0M417.4 508.9h0M504.1 449.4h0M480.7 435.8h0M441.8 508.3h0M488.8 491.8h0M506.8 481.6h0M397.9 501.8h0M402.3 503.5h0M352.4 473.7h0M431.9 421.4h0M371.1 488.6h0M393.5 432.3h0M452.8 505.0h0M444.3 424.4h0M502.4 484.4h0M434.4 509.7h0M399.8 502.3h0M480.2 495.5h0M371.7 444.8h0M441.4 507.9h0M392.3 499.1h0M447.8 425.3h0M356.4 477.5h0M384.6 436.7h0M484.9 437.8h0M417.3 508.2h0M440.8 423.6h0M391.5 498.6h0M403.9 503.5h0M505.9 451.5h0M435.9 422.6h0M374.5 490.1h0M431.0 421.5h0M500.0 446.5h0M486.9 492.3h0M413.9 424.8h0M356.1 476.8h0M426.4 510.1h0M510.8 457.8h0M432.0 421.9h0M404.2 503.3h0M515.2 472.3h0M418.3 423.5h0M448.0 505.7h0M412.1 425.5h0M447.3 425.5h0M386.3 436.2h0M388.0 496.6h0M359.9 457.3h0M394.7 499.5h0M432.3 422.1h0M491.7 489.8h0M456.8 428.1h0M392.9 433.1h0M512.3 461.2h0M492.2 489.5h0M366.0 484.3h0M436.0 508.1h0M366.0 450.3h0M423.4 508.7h0M425.2 421.7h0M357.1 462.3h0M359.0 478.9h0M419.8 507.7h0M473.2 497.5h0M455.1 503.4h0M392.8 498.5h0M437.8 423.5h0M395.4 432.1h0M385.1 495.0h0M510.8 477.7h0M509.1 479.0h0M424.0 422.2h0M361.2 456.0h0M434.0 508.2h0M423.3 422.4h0M485.9 438.7h0M354.9 468.8h0M365.5 451.0h0M472.2 497.8h0M367.7 448.9h0M423.7 508.3h0M376.3 442.3h0M371.8 445.6h0M495.6 487.5h0M510.7 477.5h0M393.0 433.3h0M424.2 508.3h0M450.9 426.8h0M511.7 460.7h0M355.3 475.0h0M392.4 497.9h0M514.3 470.0h0M500.8 447.9h0M514.5 472.4h0M374.8 443.5h0M514.0 468.1h0M468.5 432.1h0M458.6 502.0h0M451.5 503.9h0M435.1 507.4h0M358.4 461.1h0M506.9 453.8h0M413.9 505.3h0M363.8 453.3h0M356.5 465.3h0M399.9 430.6h0M502.3 449.3h0M491.8 442.1h0M503.7 450.5h0M370.3 486.4h0M436.3 507.0h0M363.9 482.0h0M374.4 488.8h0M495.5 487.3h0M357.1 476.3h0M447.8 426.3h0M387.0 495.3h0M409.4 427.2h0M415.1 425.3h0M380.2 491.9h0M489.9 441.2h0M395.8 432.4h0M430.3 507.5h0M393.6 433.4h0M396.8 499.2h0M473.8 434.1h0M463.9 430.8h0M370.4 447.3h0M378.3 490.8h0M396.1 432.4h0M500.7 448.2h0M421.0 506.4h0M381.8 439.5h0M507.2 454.7h0M512.7 475.0h0M429.8 422.7h0M390.9 496.6h0M502.9 482.6h0M362.1 456.2h0M482.5 493.1h0M437.7 506.0h0M406.5 502.2h0M410.0 427.3h0M485.1 439.0h0M407.0 428.3h0M489.6 489.8h0M486.4 439.6h0M460.3 429.9h0M386.5 437.1h0M503.3 482.1h0M433.6 423.6h0M488.4 440.7h0M416.2 425.4h0M501.6 449.3h0M357.0 466.5h0M367.4 450.5h0M384.2 493.3h0M492.1 488.5h0M411.2 427.0h0M475.9 435.2h0M436.5 424.2h0M357.6 465.0h0M416.2 504.6h0M387.8 494.9h0M439.4 505.3h0M421.5 505.6h0M395.3 497.9h0M362.8 456.0h0M393.2 497.0h0M513.2 472.0h0M442.6 504.6h0M415.8 504.2h0M409.4 502.5h0M501.7 482.9h0M382.9 439.4h0M449.0 503.1h0M413.8 426.5h0M441.8 504.4h0M503.9 451.9h0M365.1 481.6h0M504.0 481.2h0M418.8 425.1h0M492.1 488.1h0M431.5 423.7h0M483.3 492.2h0M405.6 501.1h0M367.1 483.0h0M427.6 423.1h0M428.0 505.9h0M452.6 428.2h0M470.1 497.1h0M491.3 488.5h0M410.8 502.5h0M360.2 477.4h0M502.7 482.0h0M498.5 447.4h0M381.9 440.2h0M486.1 440.0h0M450.6 502.5h0M466.1 432.1h0M435.4 424.5h0M428.5 505.6h0M363.3 456.0h0M451.4 502.2h0M497.4 485.1h0M451.5 428.1h0M360.6 460.3h0M417.8 503.8h0M372.2 447.1h0M370.9 485.1h0M456.8 429.5h0M412.2 502.4h0M472.9 495.9h0M454.7 501.3h0M450.4 502.2h0M371.6 447.6h0M415.0 503.1h0M386.9 493.6h0M392.3 495.9h0M397.5 497.8h0M434.3 504.7h0M442.0 503.7h0M358.0 474.8h0M442.3 426.1h0M366.4 481.8h0M485.5 440.0h0M446.4 502.9h0M437.8 504.2h0M404.0 499.8h0M382.0 491.1h0M502.1 450.9h0M380.6 490.3h0M460.5 430.7h0M370.0 484.2h0M434.4 504.3h0M391.9 495.4h0M402.0 431.2h0M424.9 424.2h0M431.4 504.5h0M424.5 504.3h0M424.4 504.3h0M358.4 474.6h0M382.2 490.9h0M372.7 485.6h0M367.1 481.8h0M469.1 496.7h0M510.9 465.3h0M499.5 448.9h0M423.4 503.9h0M503.9 480.4h0M401.1 498.4h0M379.8 489.6h0M410.4 501.1h0M377.6 443.6h0M432.2 504.1h0M493.6 486.6h0M422.4 503.6h0M363.1 478.6h0M358.6 474.4h0M497.6 447.5h0M393.4 495.6h0M473.0 435.1h0M489.8 442.5h0M403.8 499.1h0M483.1 491.4h0M429.4 504.0h0M382.8 490.8h0M413.1 501.5h0M475.5 494.3h0M497.0 484.5h0M455.6 429.8h0M379.8 442.4h0M490.4 443.0h0M361.9 460.3h0M359.7 465.7h0M363.4 458.0h0M415.9 501.9h0M358.7 473.3h0M499.7 482.7h0M448.8 501.4h0M411.2 428.6h0M410.2 428.9h0M481.6 438.8h0M455.5 429.9h0M412.5 501.0h0M438.7 502.8h0M482.0 491.5h0M358.9 471.8h0M460.3 431.2h0M359.0 473.3h0M414.5 501.4h0M404.0 431.1h0M423.9 425.2h0M446.3 427.7h0M359.9 474.8h0M413.0 501.0h0M460.3 498.7h0M424.2 503.0h0M387.2 438.4h0M388.3 492.9h0M484.8 490.3h0M461.9 498.2h0M369.3 482.5h0M403.7 498.4h0M510.9 472.0h0M404.1 498.5h0M391.4 494.0h0M398.2 433.5h0M394.0 495.1h0M436.3 425.9h0M422.0 425.8h0M409.9 429.2h0M504.6 479.1h0M360.0 474.6h0M430.6 503.0h0M362.4 460.5h0M490.3 443.4h0M421.2 426.1h0M447.4 428.2h0M420.9 502.1h0M509.8 465.0h0M382.1 489.7h0M446.6 428.1h0M510.6 471.6h0M381.6 441.9h0M463.0 497.6h0M395.8 495.4h0M446.4 501.2h0M447.0 501.1h0M373.8 485.0h0M485.1 489.8h0M374.3 485.3h0M478.9 492.4h0M483.6 440.1h0M380.6 488.7h0M504.6 455.3h0M457.1 498.9h0M367.1 454.2h0M407.6 498.9h0M430.6 425.5h0M393.2 494.1h0M360.3 469.2h0M492.3 445.0h0M396.0 495.1h0M480.9 491.3h0M462.2 497.4h0M416.6 427.7h0M505.9 457.6h0M372.8 483.9h0M368.4 453.1h0M507.7 475.8h0M390.8 492.9h0M500.3 451.3h0M495.5 447.3h0M505.7 477.3h0M508.4 463.2h0M508.2 462.7h0M371.7 482.8h0M412.9 499.4h0M448.5 429.1h0M428.7 501.7h0M508.2 463.0h0M378.5 486.8h0M426.2 501.5h0M504.2 455.9h0M395.6 435.4h0M455.2 498.6h0M505.0 457.0h0M441.9 427.9h0M406.0 431.5h0M417.7 500.1h0M452.7 499.0h0M466.7 495.7h0M446.5 428.8h0M478.6 491.7h0M441.3 427.8h0M476.5 492.4h0M466.4 434.1h0M366.2 456.9h0M366.1 457.0h0M454.3 498.6h0M499.3 450.9h0M361.7 467.9h0M504.2 456.3h0M503.0 478.9h0M465.3 495.9h0M458.0 431.7h0M399.8 434.0h0M370.2 481.1h0M403.3 432.7h0M445.5 428.8h0M450.8 429.9h0M404.6 432.2h0M478.9 491.3h0M409.6 430.5h0M408.4 430.9h0M419.3 427.8h0M392.2 492.6h0M411.9 429.9h0M364.5 460.3h0M475.7 437.5h0M463.8 496.1h0M368.8 479.8h0M489.7 444.3h0M366.3 457.4h0M456.0 431.3h0M379.4 444.8h0M508.6 471.2h0M406.0 432.0h0M479.8 490.7h0M480.7 439.8h0M376.1 447.3h0M491.3 445.4h0M392.7 492.4h0" stroke="#933204" stroke-width="2.8" stroke-linecap="round" fill="none" stroke-opacity="0.92"/>
<path d="M487.3 443.1h0M362.5 468.3h0M447.1 429.4h0M506.8 462.1h0M451.3 498.5h0M496.2 448.9h0M486.1 487.9h0M369.0 479.5h0M457.3 431.9h0M404.6 432.6h0M421.8 499.6h0M458.1 432.1h0M422.1 499.6h0M502.8 455.5h0M402.7 495.5h0M443.3 499.5h0M473.4 492.8h0M389.0 490.6h0M415.7 498.5h0M486.6 442.9h0M477.5 491.3h0M449.9 498.5h0M490.2 445.0h0M495.3 483.1h0M473.3 492.8h0M485.8 487.9h0M373.9 482.5h0M371.1 480.6h0M444.4 499.1h0M423.1 427.7h0M481.0 440.3h0M413.0 497.7h0M488.0 486.8h0M375.9 483.6h0M450.4 430.4h0M365.3 460.9h0M506.8 463.5h0M507.7 472.7h0M497.9 450.8h0M433.6 499.7h0M383.5 442.8h0M398.8 493.9h0M439.1 499.4h0M432.5 499.7h0M365.3 461.1h0M461.2 496.0h0M422.8 427.9h0M420.8 428.3h0M363.5 472.7h0M364.3 463.9h0M401.4 494.6h0M371.2 480.3h0M440.8 428.8h0M366.7 458.9h0M383.0 487.2h0M506.0 462.0h0M394.0 492.0h0M393.8 491.9h0M387.8 489.4h0M402.7 433.9h0M491.0 445.9h0M443.9 498.7h0M501.4 478.6h0M505.1 460.4h0M431.7 427.7h0M431.9 499.3h0M432.2 499.3h0M372.0 480.5h0M471.8 492.7h0M457.7 432.5h0M507.3 470.5h0M368.1 457.0h0M364.5 465.0h0M461.4 495.5h0M366.9 459.2h0M443.2 498.5h0M467.6 435.5h0M498.6 480.3h0M424.5 427.9h0M381.0 485.8h0M364.1 469.7h0M506.8 466.6h0M414.6 497.2h0M426.1 498.8h0M497.2 481.2h0M367.0 459.3h0M408.7 432.1h0M391.8 490.7h0M384.9 487.6h0M402.4 434.3h0M394.7 437.5h0M388.8 489.4h0M366.6 460.2h0M370.7 479.1h0M504.7 475.6h0M500.9 454.7h0M397.8 436.2h0M483.9 442.3h0M367.6 458.6h0M382.6 486.4h0M390.5 490.0h0M504.2 459.8h0M408.6 432.3h0M488.3 444.7h0M499.7 479.3h0M384.3 443.1h0M506.0 464.6h0M444.3 429.9h0M500.0 479.0h0M410.9 431.7h0M492.6 483.5h0M371.8 479.6h0M417.1 430.0h0M498.8 452.8h0M484.8 443.0h0M398.7 492.7h0M389.4 489.2h0M472.6 437.6h0M421.8 429.0h0M467.1 493.5h0M413.4 496.4h0M397.3 492.1h0M365.6 464.1h0M367.6 459.5h0M484.4 442.8h0M430.8 498.4h0M451.2 496.9h0M374.6 450.6h0M500.5 478.4h0M501.4 456.1h0M449.0 431.0h0M426.1 428.3h0M401.3 493.3h0M470.1 492.5h0M506.2 470.6h0M451.6 431.7h0M365.2 468.2h0M423.3 497.7h0M421.8 497.4h0M371.0 454.9h0M475.0 438.8h0M393.2 490.3h0M472.4 491.6h0M406.7 494.5h0M382.7 485.6h0M459.9 433.8h0M371.8 478.8h0M450.7 431.6h0M379.7 483.9h0M444.3 497.3h0M481.4 441.6h0M456.2 495.6h0M451.2 496.5h0M386.5 487.4h0M418.1 430.3h0M465.5 493.5h0M368.4 475.7h0M366.7 463.2h0M425.2 497.4h0M486.8 444.5h0M470.9 437.4h0M501.8 476.8h0M446.6 496.9h0M380.9 484.3h0M466.4 493.1h0M418.4 496.4h0M505.1 473.3h0M402.5 435.2h0M383.3 485.5h0M400.7 435.9h0M490.6 483.7h0M368.1 475.1h0M367.4 462.2h0M389.0 488.1h0M398.4 491.6h0M487.2 445.0h0M408.6 494.4h0M464.0 435.3h0M477.0 489.6h0M374.5 451.8h0M402.2 492.7h0M366.6 471.6h0M462.8 435.0h0M366.7 471.7h0M367.4 474.0h0M372.3 454.4h0M374.8 451.7h0M368.8 459.7h0M491.4 447.7h0M379.5 447.6h0M501.2 476.7h0M379.4 483.0h0M367.1 464.8h0M504.3 463.8h0M470.3 437.6h0M490.4 483.5h0M404.4 493.0h0M463.6 493.4h0M473.7 438.8h0M383.6 485.1h0M388.0 487.1h0M383.8 444.8h0M430.0 429.3h0M487.2 485.0h0M367.9 473.7h0M370.1 458.1h0M480.7 487.8h0M436.1 429.9h0M447.5 496.1h0M453.6 432.9h0M465.8 436.2h0M449.4 495.8h0M416.0 431.5h0M410.7 433.0h0M476.8 489.2h0M499.8 456.0h0M369.7 459.2h0M503.6 474.2h0M445.9 431.4h0M396.6 438.2h0M504.4 466.3h0M375.9 480.2h0M443.6 431.1h0M458.3 494.2h0M501.8 475.8h0M391.8 488.5h0M446.7 496.0h0M504.5 469.4h0M503.5 462.9h0M374.9 452.3h0M496.3 479.7h0M375.6 479.9h0M370.4 458.3h0M478.3 488.5h0M368.2 463.5h0M416.0 431.7h0M504.2 471.4h0M479.0 488.2h0M372.6 477.5h0M407.2 434.3h0M438.3 496.4h0M373.3 478.0h0M504.3 469.3h0M451.3 432.6h0M434.9 496.4h0M504.0 471.8h0M496.8 479.2h0M440.9 496.2h0M498.6 477.9h0M489.7 483.3h0M392.9 440.1h0M491.9 448.9h0M368.3 463.9h0M372.2 476.9h0M460.6 435.0h0M484.0 485.9h0M503.4 473.8h0M447.8 495.5h0M394.3 489.0h0M376.1 479.8h0M501.4 475.7h0M461.5 435.3h0M472.5 490.2h0M477.8 441.0h0M443.8 495.9h0M503.9 470.9h0M490.9 448.2h0M493.9 450.6h0M385.7 485.2h0M447.1 495.5h0M404.2 492.0h0M418.9 431.4h0M377.9 480.8h0M420.2 495.2h0M460.2 493.3h0M503.8 469.5h0M503.3 473.0h0M368.9 463.1h0M414.4 494.2h0M405.9 435.1h0M369.0 472.3h0M369.0 463.2h0M377.6 480.4h0M380.0 448.5h0M423.7 495.4h0M503.6 469.7h0M470.5 490.6h0M483.1 443.8h0M450.9 494.8h0M462.0 435.7h0M500.0 457.8h0M380.4 448.3h0M418.0 431.9h0M455.5 494.0h0M376.6 479.4h0M374.3 477.8h0M412.1 493.5h0M424.5 430.6h0M371.0 475.0h0M382.2 482.9h0M448.1 495.0h0M443.3 431.7h0M402.3 436.7h0M379.0 480.9h0M405.7 491.9h0M421.0 431.3h0M400.9 490.6h0M370.0 473.4h0M424.9 430.6h0M503.2 469.2h0M479.7 487.2h0M428.7 430.4h0M503.0 466.3h0M396.9 489.1h0M498.4 456.0h0M410.2 434.2h0M445.0 495.0h0M391.6 487.0h0M404.7 436.0h0M445.5 432.3h0M458.1 434.9h0M471.1 490.0h0M371.1 474.4h0M483.7 444.5h0M388.4 485.6h0M403.7 491.1h0M436.9 431.2h0M431.5 495.3h0M372.7 475.7h0M370.3 462.4h0M461.2 492.4h0M492.1 480.9h0M370.1 471.4h0M415.3 433.0h0M427.5 494.9h0M460.3 492.5h0M375.9 453.4h0M394.3 440.5h0M434.8 431.1h0M452.8 433.9h0M380.6 449.0h0M495.3 453.1h0M370.0 470.2h0M380.9 481.3h0M457.3 493.0h0M413.8 493.0h0M393.0 487.2h0M464.0 436.8h0M370.5 471.8h0M421.7 431.7h0M369.9 465.8h0M461.2 492.2h0M404.8 491.0h0M371.1 461.1h0M475.4 488.2h0M486.1 483.8h0M379.1 480.0h0M385.5 445.6h0M396.8 439.5h0M375.8 477.6h0M409.8 492.0h0M451.4 433.7h0M378.0 451.7h0M426.2 431.1h0M378.1 451.6h0M370.5 463.9h0M422.8 431.7h0M409.6 491.9h0M433.1 431.3h0M402.4 437.4h0M378.0 478.9h0M416.8 493.2h0M400.7 489.5h0M499.5 459.2h0M501.6 464.5h0M490.5 449.4h0M489.8 481.7h0M438.7 431.9h0M501.5 464.4h0M374.0 456.8h0M439.7 494.5h0M500.9 473.9h0M492.5 451.2h0M416.9 433.2h0M456.9 492.6h0M373.7 457.5h0M373.1 458.5h0M421.8 432.2h0M409.7 491.6h0M497.1 456.0h0M487.3 447.4h0M464.6 490.9h0M370.8 467.0h0M499.5 475.0h0M397.3 439.8h0M374.9 476.1h0M494.7 478.5h0M470.1 439.2h0M498.7 458.4h0M375.8 454.8h0M417.8 433.1h0M402.1 489.5h0M390.6 485.3h0M498.3 475.7h0M372.1 472.4h0M396.2 487.5h0M491.2 450.4h0M481.0 444.0h0M457.0 492.3h0M409.1 491.2h0M462.4 491.2h0M497.9 457.5h0M371.8 471.5h0M470.0 439.3h0M393.4 441.8h0M422.7 432.2h0M450.3 434.0h0M443.7 493.9h0M501.1 465.2h0M396.7 487.6h0M423.2 432.2h0M408.5 490.9h0M409.2 435.6h0M382.1 480.7h0M499.6 474.4h0M412.0 434.9h0M492.6 451.9h0M485.8 446.9h0M382.3 480.7h0M487.6 448.1h0M397.7 487.7h0M371.6 466.0h0M477.2 442.5h0M407.3 436.4h0M477.3 442.5h0M378.1 453.1h0M461.8 491.0h0M499.8 462.2h0M409.0 435.9h0M498.9 474.7h0M465.9 438.2h0M383.6 481.2h0M500.8 466.8h0M373.8 459.3h0M409.1 490.7h0M488.2 448.8h0M377.5 477.0h0M387.9 483.3h0M470.6 488.6h0M488.5 449.0h0M495.8 476.8h0M440.3 493.5h0M430.3 432.1h0M384.8 481.6h0M392.8 485.4h0M417.9 492.2h0M439.1 493.5h0" stroke="#9f3704" stroke-width="2.8" stroke-linecap="round" fill="none" stroke-opacity="0.92"/>
<path d="M483.1 483.9h0M440.6 493.4h0M385.8 482.1h0M499.5 462.4h0M409.9 435.9h0M378.9 452.8h0M402.2 488.6h0M478.5 485.7h0M486.0 482.5h0M398.3 487.3h0M476.5 486.5h0M466.8 438.8h0M493.2 478.4h0M499.5 462.7h0M500.3 466.9h0M486.6 482.1h0M483.5 446.0h0M419.7 492.2h0M478.2 443.3h0M388.5 483.2h0M375.3 474.6h0M461.8 490.6h0M459.4 491.1h0M373.2 462.5h0M401.7 438.9h0M468.5 439.5h0M449.3 492.5h0M486.7 448.1h0M407.8 489.9h0M405.0 489.2h0M404.0 438.1h0M438.6 433.0h0M391.8 484.6h0M381.0 478.8h0M499.1 473.0h0M374.9 458.7h0M390.4 483.9h0M389.5 483.5h0M372.9 467.6h0M485.6 447.5h0M467.9 488.9h0M436.0 493.1h0M482.9 446.0h0M373.0 467.4h0M425.8 432.7h0M409.8 490.1h0M379.7 477.6h0M498.6 473.5h0M385.2 448.0h0M485.4 482.3h0M379.8 477.6h0M378.0 476.1h0M373.4 468.6h0M488.1 449.5h0M385.8 481.2h0M444.3 492.6h0M374.1 461.7h0M373.9 462.5h0M425.1 492.3h0M380.7 477.9h0M441.0 492.7h0M498.8 463.1h0M377.6 455.5h0M477.8 485.4h0M470.7 440.6h0M397.1 441.4h0M420.6 491.7h0M474.5 442.2h0M427.0 492.3h0M397.4 486.1h0M499.2 465.9h0M487.7 449.5h0M499.0 470.1h0M374.7 461.1h0M374.0 468.5h0M395.3 485.2h0M381.2 451.8h0M461.5 489.9h0M451.9 491.5h0M435.3 433.3h0M430.3 433.1h0M492.9 454.1h0M419.8 491.3h0M374.6 470.1h0M374.4 462.9h0M376.0 473.2h0M438.1 492.4h0M374.1 465.1h0M374.1 465.2h0M374.5 462.9h0M451.7 491.4h0M489.0 450.7h0M410.8 489.6h0M471.9 441.4h0M401.5 487.2h0M401.0 487.0h0M375.5 460.2h0M383.1 478.9h0M485.6 448.3h0M491.3 478.4h0M420.1 434.4h0M397.5 485.7h0M392.1 483.6h0M417.9 434.9h0M414.2 490.2h0M379.7 476.4h0M430.3 433.3h0M433.1 433.4h0M456.0 490.6h0M415.6 490.4h0M490.8 478.5h0M442.1 434.2h0M498.5 468.9h0M425.7 433.5h0M419.2 490.9h0M396.9 485.4h0M454.1 490.9h0M388.5 446.7h0M377.1 473.7h0M418.2 490.6h0M489.7 479.0h0M389.8 482.2h0M375.0 468.3h0M438.0 433.9h0M380.1 454.0h0M384.1 479.0h0M498.3 466.3h0M395.9 442.7h0M391.1 445.3h0M450.1 435.6h0M490.8 452.9h0M471.4 486.8h0M498.2 467.3h0M430.2 491.7h0M375.1 464.2h0M388.0 481.0h0M413.3 489.5h0M376.0 460.9h0M407.5 488.2h0M423.2 491.0h0M404.2 487.3h0M389.1 446.7h0M495.1 458.1h0M449.1 491.1h0M427.3 491.4h0M497.4 463.3h0M467.0 487.9h0M431.3 491.5h0M437.0 491.6h0M484.1 481.6h0M476.6 443.9h0M386.3 448.8h0M377.4 458.5h0M472.9 442.4h0M481.1 482.9h0M465.5 488.1h0M397.6 442.2h0M489.6 452.2h0M404.7 439.4h0M406.9 487.8h0M423.9 434.4h0M426.5 491.1h0M380.9 476.0h0M399.4 441.5h0M496.5 461.6h0M475.8 484.9h0M384.5 478.4h0M406.9 487.6h0M381.9 476.6h0M491.0 477.5h0M410.7 488.5h0M402.0 440.5h0M414.5 436.5h0M437.2 434.4h0M376.0 464.3h0M377.6 472.2h0M430.8 491.2h0M379.6 474.7h0M492.9 476.1h0M384.0 477.9h0M400.7 485.7h0M377.3 459.8h0M419.0 489.9h0M426.7 490.8h0M450.3 490.5h0M494.8 474.6h0M477.4 444.7h0M437.6 434.5h0M477.4 444.7h0M376.2 463.8h0M405.2 487.0h0M376.8 461.5h0M488.6 451.8h0M376.2 467.2h0M488.4 478.8h0M383.2 452.0h0M412.3 437.3h0M496.3 462.0h0M477.1 484.1h0M414.4 489.0h0M392.2 482.2h0M485.9 449.8h0M405.5 486.9h0M484.6 480.8h0M437.1 491.0h0M393.3 444.9h0M459.4 489.0h0M496.3 462.5h0M402.3 440.7h0M437.0 491.0h0M388.0 448.3h0M496.8 468.7h0M477.4 444.9h0M383.7 477.2h0M476.6 484.2h0M412.9 488.5h0M443.1 435.3h0M492.2 476.1h0M439.3 490.9h0M381.1 454.8h0M475.2 443.9h0M496.2 463.0h0M380.6 455.4h0M411.4 488.1h0M399.8 484.9h0M413.4 488.5h0M415.3 488.8h0M409.8 438.3h0M409.8 438.3h0M464.3 440.0h0M470.8 485.9h0M406.4 439.5h0M397.7 484.0h0M486.0 479.7h0M417.8 436.3h0M441.8 435.3h0M468.1 441.3h0M482.2 481.6h0M377.1 467.2h0M438.2 435.0h0M459.1 488.7h0M468.8 441.5h0M437.5 490.6h0M384.5 477.2h0M410.0 438.4h0M452.2 437.0h0M492.1 475.8h0M378.9 471.8h0M477.0 483.6h0M377.3 463.9h0M495.0 461.0h0M377.9 461.3h0M458.1 488.8h0M378.2 460.5h0M485.2 479.9h0M420.0 436.0h0M445.6 436.0h0M427.1 490.1h0M494.9 460.9h0M462.1 439.5h0M466.7 441.0h0M378.5 460.3h0M487.1 451.5h0M460.6 488.1h0M400.0 484.3h0M381.6 455.3h0M484.7 449.8h0M396.1 482.8h0M491.7 475.6h0M409.1 487.0h0M454.7 437.8h0M404.2 485.6h0M490.9 476.2h0M391.5 480.7h0M477.4 483.1h0M378.4 461.6h0M495.0 471.3h0M416.4 437.1h0M446.9 489.8h0M402.8 441.3h0M478.2 482.7h0M492.9 458.1h0M476.8 483.2h0M410.0 487.0h0M414.0 437.8h0M465.3 486.8h0M410.4 487.1h0M389.3 448.6h0M410.8 487.2h0M405.6 485.8h0M437.6 490.1h0M476.5 445.3h0M379.9 458.6h0M411.7 438.4h0M462.8 440.1h0M439.7 490.0h0M464.1 487.0h0M382.3 455.0h0M382.3 455.1h0M484.3 479.7h0M429.8 435.3h0M389.0 449.0h0M409.5 486.7h0M495.3 466.0h0M392.8 480.9h0M408.6 486.4h0M487.5 477.9h0M378.5 463.5h0M420.3 488.7h0M432.9 489.8h0M402.1 442.0h0M396.6 482.5h0M378.7 463.5h0M400.6 483.9h0M470.5 442.9h0M416.9 488.0h0M494.7 469.8h0M441.7 436.1h0M380.3 471.1h0M415.9 487.8h0M483.4 449.6h0M447.7 489.3h0M399.4 483.4h0M387.8 450.3h0M444.4 489.5h0M462.9 440.4h0M494.9 467.1h0M431.5 435.6h0M452.2 488.8h0M444.2 436.5h0M388.2 478.0h0M450.2 489.0h0M445.3 489.4h0M475.5 445.3h0M384.7 453.2h0M391.0 448.1h0M427.0 435.7h0M379.4 463.0h0M490.5 456.3h0M401.3 483.8h0M468.5 485.3h0M442.5 489.3h0M491.9 458.1h0M464.8 441.2h0M481.9 448.9h0M396.2 445.2h0M481.2 448.5h0M467.1 442.0h0M471.8 484.2h0M487.1 452.9h0M403.3 442.0h0M488.5 454.2h0M478.7 447.1h0M388.3 450.4h0M479.8 447.7h0M383.3 473.9h0M461.2 440.2h0M396.6 445.1h0M494.2 468.7h0M464.0 441.1h0M425.6 436.2h0M396.4 445.3h0M493.7 462.7h0M478.1 481.8h0M480.1 448.0h0M404.6 441.7h0M485.2 451.5h0M463.1 486.4h0M402.6 483.8h0M397.0 445.0h0M388.5 450.5h0M433.0 436.1h0M421.3 437.0h0M380.0 466.5h0M476.0 482.5h0M417.6 487.4h0M490.1 456.5h0M493.9 466.0h0M468.0 442.6h0M404.9 484.4h0M418.9 437.6h0M408.9 485.5h0M475.2 445.7h0M388.3 450.9h0M381.4 470.1h0M380.7 461.1h0M475.6 445.9h0M461.2 440.5h0M419.4 437.6h0M449.8 488.3h0M477.9 481.5h0M381.4 469.5h0M417.0 487.0h0M382.0 458.5h0M382.2 471.0h0M426.6 436.5h0M393.2 479.6h0M472.5 483.5h0M453.9 438.8h0M491.8 472.8h0M415.2 486.6h0M493.3 464.1h0M431.3 436.4h0M382.6 471.4h0M451.0 488.0h0M459.1 440.1h0M467.0 442.5h0M435.6 488.6h0M444.3 437.3h0M407.2 484.6h0M382.7 458.0h0M471.7 444.4h0M492.0 460.7h0M418.4 487.0h0M413.3 486.0h0M455.1 439.3h0M464.8 485.4h0M487.4 476.2h0M382.1 469.6h0M411.9 439.9h0M448.5 438.0h0M403.6 442.8h0M382.5 459.0h0M410.7 485.3h0M430.3 488.2h0M423.9 487.6h0M486.6 453.8h0M478.5 480.7h0M492.8 465.2h0M382.2 460.1h0M384.3 472.5h0M483.9 478.0h0M393.7 479.1h0M408.6 441.1h0M439.9 488.3h0M429.3 488.0h0M436.0 488.3h0M492.6 463.8h0M453.1 487.4h0M475.9 481.7h0M492.7 467.0h0M476.7 447.1h0M401.2 444.0h0M382.0 468.1h0M384.7 472.7h0M410.5 485.0h0M444.5 437.7h0M449.8 487.7h0M444.9 437.8h0M395.5 446.9h0M488.6 456.2h0M410.8 485.1h0M384.9 472.8h0M445.0 488.0h0M488.3 475.1h0M429.0 487.9h0M475.1 446.4h0M487.2 454.7h0M387.4 453.1h0M402.4 443.6h0M489.9 458.1h0M433.9 488.0h0M483.4 451.5h0M419.6 486.7h0M459.5 486.2h0M491.1 471.6h0M412.9 440.0h0M415.4 485.9h0M462.1 441.5h0M469.4 443.9h0M453.3 487.1h0M406.4 442.1h0M410.7 440.6h0M381.9 464.2h0M440.8 437.5h0M384.9 456.4h0M436.9 437.2h0M384.4 471.6h0M392.9 449.0h0M382.9 468.7h0M407.3 441.9h0M383.8 470.5h0M489.6 473.5h0M396.9 446.5h0M440.2 487.9h0M428.4 487.5h0M445.9 487.6h0M491.6 469.5h0M382.5 461.8h0M386.4 454.7h0M382.2 464.1h0M480.3 479.3h0M382.4 466.2h0M489.2 473.9h0M449.2 487.3h0M433.7 487.7h0M393.2 448.9h0M436.3 487.8h0M460.0 441.1h0M442.9 487.7h0M462.5 485.2h0M491.9 466.4h0M396.2 479.5h0M449.5 438.8h0M439.9 487.7h0M483.1 477.7h0M430.9 487.5h0M490.3 460.0h0M383.1 467.7h0M454.6 439.9h0M394.9 478.7h0M484.5 476.8h0M414.1 485.2h0M482.2 451.2h0M455.1 440.0h0M488.4 474.2h0M399.9 480.9h0M391.7 450.4h0M486.8 475.2h0M443.2 487.4h0M475.7 447.3h0M388.8 452.9h0M488.2 457.1h0M488.4 457.5h0M383.1 466.0h0M489.6 472.1h0M488.7 473.4h0M406.4 482.9h0M414.0 484.9h0M435.1 487.3h0" stroke="#ac3d03" stroke-width="2.8" stroke-linecap="round" fill="none" stroke-opacity="0.92"/>
<path d="M487.4 474.4h0M425.9 486.6h0M429.4 437.8h0M421.9 486.1h0M473.7 481.4h0M409.2 483.5h0M384.5 468.9h0M466.4 443.6h0M428.5 437.9h0M384.6 469.0h0M392.4 476.6h0M439.6 438.1h0M490.6 468.4h0M385.4 458.1h0M397.5 479.3h0M438.6 487.1h0M478.7 479.2h0M397.3 447.3h0M385.0 458.9h0M479.3 478.9h0M394.9 477.9h0M388.7 473.9h0M394.4 477.6h0M384.1 462.0h0M488.5 472.6h0M457.6 485.4h0M484.9 454.4h0M418.2 439.7h0M410.7 483.6h0M409.7 483.3h0M487.0 474.2h0M464.5 483.8h0M422.6 485.8h0M403.1 444.7h0M387.0 456.3h0M454.2 440.5h0M423.0 485.9h0M489.9 462.5h0M469.3 482.5h0M457.9 485.2h0M431.0 486.6h0M444.8 486.6h0M392.8 450.7h0M481.6 451.8h0M434.4 438.2h0M395.6 448.8h0M391.5 475.4h0M457.3 485.2h0M384.6 465.8h0M415.7 484.5h0M415.4 440.7h0M443.6 486.6h0M489.2 470.2h0M489.9 467.7h0M384.5 464.6h0M488.9 460.5h0M385.1 467.5h0M384.6 463.1h0M392.6 451.1h0M385.8 468.9h0M386.9 470.8h0M404.0 481.2h0M445.9 486.4h0M422.4 485.5h0M487.7 472.5h0M479.5 450.6h0M460.0 442.2h0M386.4 469.9h0M463.3 443.1h0M392.9 476.0h0M469.8 482.0h0M413.7 441.3h0M488.3 471.3h0M489.9 465.5h0M437.5 438.6h0M468.4 445.0h0M418.3 484.8h0M413.2 483.7h0M449.6 486.0h0M489.1 469.4h0M436.5 486.5h0M394.9 477.0h0M392.0 451.9h0M434.8 486.4h0M476.4 479.4h0M410.9 442.2h0M401.7 445.8h0M484.0 454.4h0M475.9 448.6h0M385.4 461.4h0M385.7 460.4h0M443.6 439.2h0M436.8 438.7h0M456.1 441.3h0M414.0 483.7h0M489.4 467.1h0M407.6 443.5h0M385.9 460.7h0M489.4 464.7h0M476.0 479.4h0M397.9 448.1h0M459.4 484.3h0M386.0 467.4h0M396.8 448.8h0M476.5 479.1h0M451.4 485.5h0M488.4 461.2h0M487.4 459.2h0M440.7 486.1h0M488.9 462.8h0M433.8 486.1h0M409.6 482.4h0M416.8 440.9h0M415.4 441.2h0M393.6 475.6h0M453.1 440.9h0M413.6 441.8h0M471.1 481.0h0M485.0 456.2h0M385.9 465.2h0M413.8 483.3h0M473.6 480.0h0M448.0 485.6h0M476.7 478.8h0M471.3 446.7h0M385.9 464.6h0M407.5 443.9h0M486.0 473.0h0M400.1 447.3h0M392.1 474.3h0M447.5 485.5h0M388.8 471.0h0M431.6 439.1h0M482.6 454.0h0M440.3 485.8h0M443.6 485.7h0M424.5 485.0h0M471.3 480.7h0M429.4 485.4h0M414.8 441.8h0M397.2 477.2h0M458.9 442.5h0M476.5 478.5h0M425.0 439.7h0M413.7 483.0h0M393.3 452.0h0M474.5 448.6h0M399.8 478.3h0M488.3 466.7h0M394.9 475.7h0M487.4 469.7h0M432.4 439.3h0M411.6 442.9h0M469.8 446.4h0M471.5 480.4h0M488.1 463.6h0M418.4 483.7h0M406.6 480.8h0M416.6 441.5h0M481.9 453.9h0M391.9 453.7h0M400.4 447.7h0M473.0 448.1h0M486.1 471.4h0M478.0 477.5h0M468.0 445.9h0M468.2 481.3h0M448.0 485.0h0M411.2 481.9h0M486.3 470.9h0M441.8 439.9h0M438.9 485.4h0M466.0 445.2h0M387.3 462.9h0M431.8 439.6h0M396.7 476.2h0M441.8 485.2h0M418.5 441.4h0M479.5 452.3h0M441.3 440.0h0M477.2 450.7h0M449.7 441.0h0M407.2 444.9h0M417.4 483.2h0M390.1 456.4h0M421.3 440.8h0M483.8 456.4h0M438.3 439.8h0M478.2 451.5h0M486.1 459.9h0M387.6 464.9h0M452.6 484.3h0M398.1 449.5h0M471.4 447.7h0M416.3 442.0h0M394.1 452.4h0M486.5 469.6h0M428.7 439.9h0M485.1 471.8h0M470.9 447.5h0M485.4 471.3h0M443.1 485.0h0M487.1 467.3h0M391.3 471.6h0M417.3 441.9h0M484.9 458.3h0M480.1 453.2h0M392.0 454.7h0M426.4 440.2h0M416.9 482.8h0M398.8 449.3h0M395.5 474.9h0M471.2 479.7h0M482.4 455.3h0M473.9 478.7h0M395.4 451.7h0M445.7 440.8h0M449.3 484.4h0M486.9 466.4h0M439.6 440.2h0M418.9 483.1h0M473.2 478.9h0M472.5 448.5h0M393.9 473.5h0M394.3 452.8h0M410.8 444.0h0M405.7 445.9h0M397.1 450.6h0M452.3 441.9h0M478.9 452.5h0M485.8 469.7h0M486.6 463.3h0M430.7 484.4h0M394.2 453.0h0M391.8 471.3h0M449.8 484.2h0M470.3 447.6h0M485.6 460.4h0M415.3 442.8h0M473.6 478.5h0M451.2 441.8h0M485.5 460.5h0M403.8 447.0h0M442.0 484.5h0M419.9 441.8h0M388.8 464.4h0M398.6 450.0h0M440.4 484.5h0M468.2 480.3h0M452.0 442.0h0M424.7 483.6h0M388.9 462.1h0M465.0 445.6h0M403.0 447.6h0M389.3 460.6h0M389.0 464.7h0M403.9 447.2h0M442.0 440.7h0M400.1 449.2h0M484.1 471.5h0M437.4 484.5h0M415.3 443.0h0M485.4 469.0h0M475.4 450.6h0M471.0 479.2h0M421.7 441.6h0M411.1 480.7h0M486.0 466.0h0M431.8 440.5h0M422.4 483.1h0M421.3 482.9h0M433.8 484.2h0M389.9 467.0h0M456.7 443.3h0M452.8 442.5h0M389.4 463.3h0M480.2 474.7h0M432.6 484.1h0M398.5 475.5h0M460.1 444.3h0M440.4 484.2h0M395.2 473.2h0M459.7 482.1h0M463.5 481.2h0M440.7 441.0h0M390.3 460.1h0M393.0 471.0h0M436.8 484.1h0M478.5 453.2h0M414.4 481.2h0M409.3 445.4h0M451.5 483.3h0M408.1 479.4h0M485.5 464.3h0M398.9 450.6h0M409.7 479.9h0M394.3 454.4h0M460.2 481.8h0M391.8 469.2h0M401.9 448.8h0M432.6 440.8h0M433.3 483.8h0M440.8 484.0h0M470.2 448.3h0M392.0 457.3h0M398.8 475.2h0M435.2 483.9h0M432.8 483.8h0M485.2 466.6h0M401.6 476.6h0M482.2 472.3h0M483.2 470.9h0M467.8 479.7h0M445.0 441.6h0M474.7 477.0h0M411.2 444.9h0M440.9 483.8h0M424.0 441.7h0M468.9 447.8h0M432.9 441.0h0M434.7 483.7h0M483.6 470.2h0M404.9 447.5h0M390.5 465.3h0M459.0 481.9h0M391.1 467.1h0M413.9 480.8h0M419.4 442.6h0M391.0 466.9h0M485.0 466.0h0M482.0 457.2h0M476.6 476.0h0M423.6 441.8h0M462.5 445.5h0M391.4 467.5h0M483.8 469.4h0M465.5 480.2h0M481.6 472.5h0M405.4 478.0h0M474.9 451.2h0M424.5 482.7h0M482.9 470.9h0M453.3 443.1h0M391.0 460.9h0M432.3 483.5h0M393.4 456.2h0M437.3 483.6h0M484.7 464.1h0M424.2 482.6h0M452.5 443.0h0M409.5 479.3h0M470.9 478.3h0M458.3 444.4h0M410.9 479.7h0M431.9 483.4h0M469.5 448.4h0M408.9 446.1h0M424.9 482.6h0M483.2 469.9h0M393.1 457.1h0M481.2 456.9h0M425.8 482.7h0M478.6 454.2h0M465.1 480.1h0M392.2 467.8h0M436.1 441.3h0M437.6 483.5h0M483.5 460.6h0M391.3 465.6h0M416.7 481.0h0M391.2 464.3h0M410.9 479.5h0M441.2 441.6h0M431.6 441.5h0M453.4 443.4h0M482.0 458.2h0M461.2 481.0h0M472.3 450.1h0M392.6 467.9h0M404.2 448.5h0M398.8 451.8h0M395.9 471.9h0M410.3 479.2h0M424.6 482.3h0M427.6 441.8h0M424.6 482.2h0M432.6 483.0h0M393.3 457.6h0M396.6 472.3h0M463.0 446.2h0M483.7 467.0h0M394.4 470.1h0M426.0 482.3h0M439.6 483.1h0M402.5 449.7h0M405.5 448.1h0M450.7 443.1h0M406.0 477.4h0M403.8 449.0h0M391.8 463.0h0M479.7 473.0h0M398.4 473.5h0M435.6 483.0h0M391.9 462.9h0M446.6 442.5h0M411.4 445.7h0M402.5 449.8h0M483.6 463.6h0M481.1 457.9h0M435.7 441.8h0M416.7 480.5h0M444.4 482.8h0M483.4 466.4h0M393.5 458.2h0M397.4 472.4h0M394.5 456.8h0M401.7 450.4h0M473.5 451.3h0M424.8 442.5h0M458.0 444.9h0" stroke="#b94303" stroke-width="2.8" stroke-linecap="round" fill="none" stroke-opacity="0.92"/>
<path d="M404.3 476.4h0M447.4 442.8h0M393.0 459.7h0M392.8 460.3h0M452.3 443.6h0M480.4 457.3h0M397.8 472.4h0M410.2 478.5h0M421.5 481.3h0M411.9 479.0h0M392.5 463.1h0M482.4 468.4h0M471.6 450.4h0M481.9 459.9h0M461.4 446.1h0M476.6 474.6h0M477.6 474.0h0M402.7 450.1h0M393.2 459.8h0M395.6 470.2h0M458.4 480.9h0M412.7 445.7h0M403.7 449.6h0M472.1 476.7h0M444.3 442.6h0M400.6 451.6h0M462.3 479.9h0M426.4 442.5h0M430.7 482.3h0M399.3 473.2h0M406.4 476.9h0M395.2 469.3h0M407.9 447.7h0M480.2 457.7h0M409.2 447.2h0M448.8 482.1h0M393.1 462.1h0M482.7 464.7h0M480.1 471.2h0M394.7 457.9h0M413.9 479.3h0M481.3 459.7h0M448.4 443.3h0M401.8 451.2h0M426.5 481.7h0M431.4 482.1h0M421.4 480.9h0M418.3 480.3h0M482.4 465.8h0M420.6 480.7h0M479.4 457.1h0M410.5 478.1h0M404.2 475.6h0M470.3 477.1h0M412.1 478.6h0M465.4 447.9h0M397.1 455.1h0M452.7 481.4h0M449.9 443.7h0M421.7 443.7h0M474.3 475.2h0M475.1 453.3h0M411.6 446.6h0M395.4 468.7h0M481.8 467.4h0M442.1 482.2h0M481.9 462.1h0M434.6 442.5h0M417.2 479.8h0M456.6 480.7h0M394.3 466.4h0M421.9 480.8h0M400.8 473.5h0M477.0 473.5h0M398.9 472.1h0M453.6 444.5h0M424.0 481.0h0M437.5 482.2h0M459.8 446.1h0M469.0 477.3h0M475.6 453.9h0M416.6 479.5h0M396.1 469.0h0M440.2 442.8h0M398.9 471.8h0M454.8 444.9h0M435.0 442.7h0M406.5 476.1h0M481.5 466.8h0M481.2 461.4h0M399.0 471.7h0M450.5 444.1h0M481.1 467.6h0M477.8 456.2h0M442.7 481.9h0M396.1 457.5h0M425.8 481.1h0M478.7 457.3h0M458.0 445.9h0M422.3 444.0h0M418.3 444.9h0M468.2 477.3h0M397.3 456.0h0M398.2 470.7h0M478.6 471.3h0M476.1 454.8h0M411.7 477.8h0M468.9 477.0h0M449.9 444.1h0M452.3 444.6h0M481.0 467.1h0M456.8 480.3h0M403.2 474.2h0M418.1 479.5h0M406.2 449.5h0M465.3 478.1h0M445.1 481.6h0M399.8 471.9h0M447.2 481.4h0M395.0 460.9h0M477.9 456.8h0M430.2 443.1h0M416.9 479.1h0M467.6 449.7h0M422.7 444.2h0M406.4 475.5h0M417.2 445.5h0M477.9 457.0h0M397.0 468.7h0M462.1 478.8h0M477.7 471.5h0M415.4 478.6h0M395.0 462.5h0M474.5 474.0h0M398.8 470.6h0M435.3 443.1h0M400.4 471.9h0M412.8 447.0h0M480.5 461.9h0M441.9 443.4h0M423.2 480.2h0M397.4 456.9h0M454.8 480.3h0M471.5 475.4h0M412.6 447.2h0M416.2 478.6h0M429.2 443.5h0M432.1 481.2h0M470.3 475.9h0M427.4 480.7h0M467.7 450.0h0M398.9 455.4h0M417.3 478.8h0M430.7 443.4h0M449.9 444.6h0M402.5 473.0h0M430.1 443.5h0M399.5 470.7h0M410.0 448.4h0M402.2 452.7h0M480.2 466.1h0M471.2 475.3h0M413.8 477.8h0M476.1 472.4h0M437.1 481.3h0M463.1 478.2h0M408.6 449.1h0M408.6 449.1h0M480.1 466.0h0M396.8 458.9h0M457.4 479.5h0M396.2 465.2h0M400.8 471.4h0M411.5 476.9h0M402.2 472.4h0M480.1 463.2h0M459.0 446.9h0M396.4 465.6h0M479.5 461.1h0M416.7 478.4h0M431.4 443.6h0M403.4 452.2h0M476.1 472.0h0M479.8 462.4h0M415.8 446.5h0M396.2 463.8h0M399.7 455.4h0M465.0 449.2h0M416.9 478.3h0M452.9 480.1h0M406.9 450.2h0M425.5 480.0h0M473.7 473.6h0M396.9 459.9h0M423.4 444.7h0M397.9 457.9h0M416.3 478.1h0M430.4 480.5h0M475.9 471.8h0M398.8 456.8h0M450.6 445.1h0M408.5 475.4h0M405.5 474.0h0M451.4 480.2h0M396.5 463.6h0M479.5 462.9h0M478.5 459.8h0M408.3 475.3h0M472.0 453.2h0M444.9 444.3h0M398.3 468.1h0M452.8 479.9h0M451.0 445.2h0M463.1 477.7h0M442.8 480.8h0M417.9 446.2h0M403.2 472.5h0M407.5 474.8h0M416.9 478.1h0M442.4 480.8h0M441.7 480.8h0M476.9 457.7h0M396.8 464.1h0M437.1 480.8h0M397.6 459.2h0M417.5 446.3h0M402.7 472.0h0M450.0 480.2h0M432.3 444.0h0M401.5 454.4h0M397.5 459.7h0M405.0 473.4h0M405.8 473.8h0M404.9 451.9h0M403.5 472.4h0M438.4 480.7h0M469.5 475.3h0M418.8 478.4h0M407.6 450.4h0M447.1 480.3h0M462.8 477.6h0M402.5 471.6h0M423.7 479.3h0M410.8 475.9h0M477.5 459.0h0M478.9 465.9h0M420.1 445.9h0M479.0 464.3h0M402.6 453.7h0M437.0 444.1h0M471.7 453.4h0M418.0 478.0h0M464.4 477.0h0M427.9 444.5h0M402.6 453.8h0M468.5 451.5h0M401.2 470.4h0M405.3 473.2h0M408.6 450.1h0M412.2 476.3h0M399.5 457.3h0M434.1 444.2h0M470.0 452.5h0M430.0 444.4h0M442.4 444.5h0M415.5 477.2h0M417.1 477.7h0M424.2 479.2h0M450.5 445.6h0M457.6 478.6h0M416.7 447.1h0M478.6 463.9h0M432.9 480.1h0M467.0 475.9h0M449.0 445.4h0M436.3 444.3h0M452.6 479.4h0M477.7 467.7h0M466.7 475.9h0M476.4 469.5h0M411.2 449.2h0M461.3 448.6h0M443.0 480.2h0M425.2 445.2h0M403.5 471.5h0M472.0 473.2h0M464.3 449.9h0M398.2 461.8h0M403.6 471.4h0M447.2 479.8h0M443.3 480.1h0M406.4 451.8h0M405.4 452.5h0M408.1 450.8h0M430.5 444.7h0M427.1 479.3h0M447.4 445.3h0M443.1 444.9h0M472.7 472.6h0M450.3 445.8h0M404.8 472.1h0M398.7 460.5h0M477.7 465.9h0M403.7 471.2h0M466.2 451.0h0M464.3 476.3h0M425.9 445.4h0M414.0 448.5h0M416.1 447.8h0M425.3 445.5h0M425.9 478.9h0M471.7 454.4h0M418.0 477.3h0M458.2 477.9h0M476.7 460.1h0M416.4 476.8h0M406.8 472.9h0M406.3 452.4h0M412.9 475.6h0M399.9 466.6h0M476.3 459.7h0M444.2 445.3h0M401.3 468.5h0M423.7 478.4h0M470.1 473.6h0M399.2 464.2h0M452.5 446.6h0M470.9 473.1h0M475.3 469.4h0M412.6 475.4h0M427.1 478.8h0M468.5 474.3h0M472.1 455.2h0M475.5 469.0h0M402.6 469.5h0M443.5 479.5h0M410.0 450.6h0M415.9 448.2h0M463.0 450.0h0M430.2 479.1h0M412.5 475.1h0M430.7 479.1h0M443.6 479.5h0M438.6 479.5h0M441.2 479.5h0M399.7 461.0h0M422.3 446.5h0M413.2 475.3h0M404.8 454.1h0M401.3 467.6h0" stroke="#c64902" stroke-width="2.8" stroke-linecap="round" fill="none" stroke-opacity="0.92"/>
<path d="M433.8 445.2h0M440.6 445.3h0M399.8 461.6h0M408.1 472.9h0M475.7 467.9h0M459.8 448.9h0M476.7 463.6h0M465.6 475.2h0M467.3 474.5h0M402.9 456.2h0M457.4 477.5h0M432.4 479.0h0M422.2 477.6h0M475.6 460.2h0M424.1 477.9h0M423.9 477.9h0M402.3 468.2h0M404.7 470.5h0M446.3 479.0h0M411.7 450.4h0M439.0 479.2h0M458.3 448.7h0M476.1 462.4h0M461.5 449.9h0M417.5 476.2h0M400.8 465.1h0M408.0 472.4h0M410.3 473.6h0M461.1 449.8h0M413.5 474.9h0M425.2 446.4h0M475.6 466.5h0M403.7 469.3h0M408.6 472.7h0M401.7 466.6h0M471.0 455.4h0M402.5 467.6h0M413.6 449.8h0M429.6 478.4h0M458.8 449.1h0M400.8 463.3h0M475.8 463.0h0M415.1 449.3h0M409.2 472.8h0M472.7 470.3h0M475.5 461.7h0M434.2 478.7h0M445.8 478.7h0M409.2 452.1h0M401.1 460.9h0M417.7 448.4h0M445.2 478.7h0M474.7 460.0h0M471.6 456.1h0M400.9 462.2h0M442.9 478.8h0M452.9 477.8h0M401.9 459.1h0M426.4 477.8h0M462.4 450.6h0M401.2 461.5h0M422.6 477.1h0M408.8 452.5h0M474.4 459.8h0M473.7 458.7h0M468.3 473.1h0M465.4 474.4h0M432.0 478.4h0M402.7 458.1h0M405.3 469.8h0M470.9 455.7h0M429.2 478.1h0M438.2 445.9h0M434.2 478.5h0M403.2 467.5h0M431.9 446.0h0M420.2 476.4h0M420.9 447.8h0M464.9 474.5h0M447.9 446.8h0M404.6 456.1h0M473.4 468.6h0M470.6 471.3h0M408.3 453.1h0M411.0 473.1h0M404.8 469.0h0M410.6 451.8h0M470.6 455.9h0M402.4 465.4h0M406.0 469.9h0M474.1 460.3h0M443.6 446.4h0M434.3 446.1h0M413.5 450.5h0M450.0 477.8h0M437.6 446.1h0M405.8 455.4h0M413.7 474.1h0M434.8 446.2h0M474.7 463.3h0M469.1 454.9h0M474.6 462.8h0M402.4 464.9h0M415.2 474.6h0M402.7 459.8h0M407.1 470.5h0M449.9 477.7h0M440.8 446.4h0M405.7 455.7h0M462.0 475.1h0M470.1 455.9h0M442.0 446.5h0M430.4 446.5h0M403.6 466.7h0M462.4 451.3h0M407.0 470.1h0M435.1 446.4h0M471.2 470.0h0M452.0 448.0h0M412.0 451.6h0M474.2 462.6h0M466.3 473.2h0M448.5 477.7h0M404.3 457.7h0M467.2 472.7h0M426.9 477.2h0M443.7 478.0h0M443.3 446.8h0M434.3 446.5h0M461.1 451.0h0M460.9 475.1h0M408.0 454.3h0M405.6 456.5h0M405.2 457.0h0M463.0 474.3h0M425.6 447.4h0M439.7 446.6h0M432.6 446.7h0M418.5 475.1h0M405.1 467.7h0M467.1 472.4h0M417.7 449.6h0M411.8 472.5h0M403.3 463.6h0M407.3 455.2h0M443.4 477.7h0M406.5 468.8h0M439.2 446.8h0M436.1 446.7h0M428.7 447.2h0M403.8 460.3h0M419.3 449.2h0M470.8 469.4h0M405.5 467.7h0M408.5 470.3h0M404.6 458.6h0M465.9 472.7h0M434.4 446.9h0M473.3 463.1h0M468.9 456.0h0M471.0 458.1h0M444.7 477.5h0M403.7 462.3h0M468.3 455.5h0M412.9 472.6h0M458.7 475.2h0M423.2 475.9h0M411.6 471.9h0M438.4 477.5h0M445.3 477.4h0M463.6 452.7h0M410.5 453.5h0M448.4 477.0h0M471.6 459.4h0M404.4 464.7h0M431.5 477.1h0M469.1 470.3h0M472.1 460.3h0M444.1 477.4h0M431.8 447.2h0M472.6 465.5h0M413.6 472.7h0M470.8 468.6h0M418.7 449.8h0M467.2 455.0h0M425.4 448.1h0M410.6 471.1h0M469.1 470.2h0M439.3 447.2h0M472.5 461.6h0M410.3 470.8h0M469.6 457.2h0M472.6 464.3h0M429.4 476.7h0M470.6 468.5h0M410.2 454.1h0M472.4 464.5h0M420.9 449.4h0M404.6 461.8h0M429.8 476.6h0M414.6 451.7h0M471.4 467.0h0M416.0 473.3h0M459.7 474.5h0M417.8 450.4h0M468.0 470.7h0M428.3 476.4h0M469.2 457.1h0M472.0 465.5h0M419.0 450.0h0M472.3 463.6h0M422.5 449.0h0M406.6 467.1h0M428.8 447.8h0M458.3 474.8h0M436.6 477.1h0M435.3 477.0h0M410.0 454.5h0M407.6 456.6h0M410.1 470.2h0M452.1 476.1h0M449.0 476.5h0M426.3 448.3h0M406.0 458.9h0M462.1 473.5h0M464.0 453.6h0M405.3 464.2h0M425.2 475.7h0M448.0 476.6h0M470.5 467.5h0M461.2 452.3h0M407.2 457.4h0M407.6 467.8h0M470.3 467.6h0M471.1 466.3h0M446.0 476.6h0M439.1 476.9h0M405.7 464.3h0M408.6 468.5h0M458.5 451.3h0M439.9 447.7h0M448.0 476.4h0M449.1 448.8h0M426.2 448.6h0M405.7 461.3h0M463.9 453.9h0M467.6 456.4h0M462.1 473.1h0M467.1 470.4h0M470.3 467.1h0M412.3 453.7h0M433.0 447.9h0M409.3 468.7h0M426.2 475.5h0M429.2 475.9h0M406.0 461.9h0M416.3 451.8h0M407.9 467.1h0M471.1 463.9h0M469.4 459.0h0M466.3 455.8h0M464.7 471.5h0M455.9 450.7h0M470.8 462.1h0M436.6 476.5h0M412.8 470.7h0M407.6 458.5h0M464.7 471.4h0M453.9 475.1h0M443.0 448.3h0M408.9 467.8h0M410.9 469.5h0M408.6 457.2h0M409.6 468.4h0M469.9 466.5h0M422.8 474.5h0M459.7 452.3h0M465.9 470.6h0M407.8 466.3h0M415.7 452.4h0M449.6 475.7h0M469.3 459.3h0M426.6 449.0h0M410.3 455.8h0M415.4 452.6h0M410.1 468.6h0M426.1 449.1h0M453.2 450.2h0M459.7 473.4h0M423.4 474.5h0M460.1 473.3h0M421.1 450.5h0M407.7 465.8h0M445.9 476.0h0M470.4 462.8h0M422.3 474.1h0M468.1 468.4h0M459.2 473.5h0M420.8 473.7h0M469.1 467.2h0M470.3 463.4h0M435.4 476.1h0M462.0 453.6h0M458.6 473.6h0M467.7 468.8h0M442.8 448.5h0M423.2 449.9h0M453.6 450.4h0M440.2 448.4h0M419.9 451.0h0M408.9 466.9h0M467.8 468.5h0M419.0 473.0h0M468.5 467.6h0M417.9 451.8h0M411.6 469.3h0M426.4 449.4h0M408.3 465.7h0M458.5 452.2h0M440.1 448.5h0M449.6 449.7h0M414.9 471.1h0M466.8 457.3h0M451.0 450.0h0M460.5 472.6h0M410.1 456.9h0M465.5 470.0h0M456.1 451.5h0M452.8 474.7h0M469.3 461.1h0M444.1 448.9h0M409.3 457.9h0M408.5 465.6h0M469.6 464.0h0M434.1 448.7h0M458.8 473.2h0M411.5 455.8h0M454.3 474.4h0M441.1 448.8h0M451.0 450.1h0M468.8 466.1h0M435.1 448.7h0M408.9 465.8h0M407.8 462.7h0M407.9 461.6h0M451.7 450.4h0M416.0 471.3h0M453.1 450.7h0M409.9 457.6h0M467.5 458.6h0M444.8 449.2h0M409.7 458.0h0M422.2 473.4h0M448.3 475.2h0M457.8 452.3h0M416.7 471.5h0M456.4 451.8h0M413.2 454.9h0M461.3 471.9h0M447.1 449.6h0M424.0 473.9h0M414.7 470.4h0M456.3 473.6h0M433.7 475.4h0M428.7 449.5h0M434.3 475.4h0M409.3 465.7h0M419.2 472.3h0M430.4 475.0h0M448.3 449.9h0M466.9 468.0h0M416.1 453.4h0M450.1 450.2h0M414.0 454.7h0" stroke="#d05004" stroke-width="2.8" stroke-linecap="round" fill="none" stroke-opacity="0.92"/>
<path d="M468.3 461.0h0M454.1 451.3h0M409.4 465.4h0M410.7 467.0h0M426.6 450.0h0M433.1 475.1h0M467.8 466.3h0M438.9 475.4h0M461.2 454.3h0M466.2 458.0h0M417.4 453.0h0M436.0 475.3h0M434.0 475.1h0M468.5 464.2h0M421.0 472.7h0M418.0 471.6h0M432.1 474.9h0M443.7 475.2h0M409.6 459.6h0M419.6 452.2h0M440.4 475.3h0M434.7 475.1h0M423.2 473.2h0M438.2 449.2h0M452.3 474.1h0M453.3 473.9h0M440.6 449.3h0M415.7 470.3h0M423.7 450.9h0M448.0 450.1h0M463.4 470.1h0M416.3 470.6h0M421.5 472.7h0M418.1 471.4h0M439.6 449.3h0M409.4 460.7h0M412.1 456.7h0M416.1 470.5h0M467.8 461.3h0M431.5 449.6h0M418.5 471.5h0M459.5 471.9h0M415.2 454.6h0M427.2 473.9h0M429.1 449.9h0M443.2 475.0h0M461.0 454.6h0M467.3 460.7h0M424.1 451.0h0M463.3 469.8h0M420.3 452.3h0M456.7 452.7h0M443.4 474.9h0M427.2 450.3h0M421.1 472.3h0M428.6 474.1h0M441.8 449.6h0M445.2 450.0h0M453.4 473.6h0M465.6 467.8h0M410.0 463.9h0M466.4 459.3h0M424.6 473.2h0M451.1 451.1h0M418.4 453.2h0M422.2 472.5h0M428.8 450.2h0M466.9 460.6h0M412.0 466.9h0M460.9 470.9h0M421.0 472.1h0M454.5 473.2h0M446.4 450.2h0M410.0 462.9h0M465.0 457.9h0M423.7 451.4h0M458.0 453.4h0M458.9 471.8h0M410.3 460.5h0M410.2 463.3h0M442.8 474.7h0M428.0 473.8h0M467.0 461.2h0M411.6 458.3h0M415.3 455.1h0M412.9 467.5h0M467.2 462.8h0M467.1 464.2h0M422.2 472.2h0M444.6 450.2h0M420.9 471.8h0M411.6 458.7h0M417.7 453.9h0M453.0 473.3h0M451.2 451.4h0M429.4 450.4h0M450.6 451.3h0M455.9 453.0h0M428.7 473.6h0M421.9 471.9h0M410.9 463.5h0M417.5 470.2h0M422.7 452.1h0M452.2 451.8h0M422.3 472.0h0M427.5 450.8h0M411.6 465.1h0M429.9 473.7h0M413.2 466.9h0M420.5 471.3h0M419.5 470.8h0M464.5 458.6h0M414.8 468.2h0M445.0 450.6h0M456.4 471.9h0M444.3 474.1h0M411.7 460.1h0M463.5 468.2h0M413.3 457.8h0M452.8 472.9h0M411.7 460.3h0M464.5 467.2h0M414.1 467.4h0M458.0 454.2h0M414.8 467.9h0M429.0 450.9h0M436.0 450.3h0M459.1 470.7h0M428.3 473.1h0M417.5 454.8h0M463.5 458.0h0M417.1 469.3h0M464.9 459.8h0M460.5 469.9h0M411.7 462.3h0M411.8 461.6h0M426.5 451.5h0M456.7 453.8h0M431.4 450.7h0M446.8 451.1h0M457.4 471.2h0M457.9 471.0h0M450.8 452.0h0M456.2 471.6h0M413.3 458.8h0M423.3 471.6h0M459.4 470.2h0M465.0 465.0h0M461.3 456.7h0M444.8 451.0h0M424.4 452.3h0M424.1 471.7h0M453.1 452.9h0M414.0 458.3h0M454.9 471.8h0M438.4 450.7h0M447.4 451.5h0M434.9 450.8h0M413.6 465.2h0M430.4 451.3h0M414.3 466.1h0M452.8 452.9h0M454.6 471.7h0M452.3 472.3h0M427.0 451.8h0M457.8 454.9h0M462.5 458.1h0M418.4 455.1h0M430.0 451.4h0M413.5 459.9h0M440.7 473.5h0M413.6 464.5h0M442.9 473.4h0M414.2 459.1h0M464.4 462.7h0M443.5 451.3h0M464.4 462.8h0M423.3 471.0h0M428.6 451.8h0M415.6 457.6h0M443.8 473.2h0M445.5 473.1h0M423.2 453.4h0M448.8 472.6h0M436.9 451.1h0M414.7 459.1h0M464.0 462.2h0M455.9 454.5h0M417.5 456.4h0M454.4 454.0h0M427.2 471.8h0M451.6 471.9h0M458.6 469.5h0M425.1 471.2h0M463.8 462.9h0M442.1 451.5h0M454.8 470.9h0M441.2 473.1h0M419.3 455.5h0M463.0 460.4h0M415.3 458.9h0M443.3 451.7h0M416.3 466.4h0M449.2 452.7h0M457.9 456.0h0M429.0 452.3h0M456.2 455.1h0M418.8 468.3h0M448.7 452.6h0M437.1 451.5h0M437.6 451.5h0M417.6 457.0h0M461.5 458.9h0M463.2 462.5h0M414.7 461.5h0M433.0 451.9h0M425.4 453.4h0M434.0 451.9h0M433.1 452.0h0M422.5 469.7h0M462.4 464.7h0M462.1 465.3h0M417.0 466.2h0M430.3 471.8h0M434.1 452.0h0M441.0 472.6h0M417.9 466.9h0M447.5 452.8h0M417.5 466.5h0M438.3 472.5h0M462.4 461.9h0M424.3 470.2h0M454.8 470.2h0M444.4 472.3h0M458.6 468.3h0M460.4 458.6h0M415.9 460.2h0M416.5 459.2h0M459.8 458.1h0M457.8 468.7h0M461.7 460.6h0M429.5 452.7h0M424.3 470.0h0M421.9 469.1h0M444.1 472.2h0M457.1 456.3h0M447.7 453.0h0M461.4 460.3h0M420.8 468.4h0M434.3 452.2h0M460.8 459.7h0M416.3 464.0h0M430.3 452.8h0M443.2 452.4h0M417.6 458.5h0M439.2 452.2h0M422.9 455.0h0M456.5 456.2h0M459.1 467.4h0M444.7 452.7h0M440.9 472.1h0M426.4 453.8h0M451.0 454.1h0M435.1 452.4h0M444.0 472.0h0M422.8 455.2h0M434.5 471.8h0M450.8 454.1h0M442.7 472.0h0M438.8 452.4h0M451.9 454.5h0M461.5 462.7h0M417.1 459.9h0M424.8 469.7h0M449.5 453.8h0M420.5 467.6h0M435.6 452.5h0M460.1 465.9h0M419.6 466.9h0M422.2 455.8h0M420.3 467.3h0M447.6 453.5h0M425.8 454.3h0M419.1 457.9h0M460.2 460.0h0M460.4 460.5h0M460.9 461.7h0M460.9 462.5h0M460.8 463.6h0M429.7 453.5h0M431.2 453.2h0M417.6 460.4h0M423.1 468.6h0M418.0 464.5h0M459.0 459.0h0M417.5 463.2h0M459.9 460.5h0M417.5 462.4h0M417.7 462.7h0M430.2 470.6h0M428.5 454.0h0M421.7 456.8h0M458.4 459.1h0M455.3 468.4h0M423.0 467.9h0M458.9 465.4h0M423.8 468.3h0M448.0 454.2h0M450.6 454.9h0M434.7 471.0h0M445.6 470.7h0M421.3 457.7h0M425.0 468.5h0M418.9 460.8h0M454.0 468.5h0M418.9 462.9h0M452.0 469.2h0M421.7 466.6h0M420.6 458.4h0M422.1 457.3h0M419.5 464.1h0M419.2 460.9h0M427.1 455.1h0M419.3 463.3h0M454.2 456.9h0M439.1 453.5h0M458.8 462.6h0M458.6 463.7h0M430.7 469.9h0M428.0 454.9h0M443.2 470.6h0M446.0 454.3h0M419.8 463.7h0M440.5 453.7h0M425.9 455.8h0M455.4 467.1h0M449.6 455.3h0M432.0 454.2h0M423.1 457.3h0M425.4 456.1h0M447.2 470.0h0M431.2 454.4h0M452.3 456.4h0M446.1 454.5h0M434.9 470.3h0M432.6 469.9h0M440.8 454.0h0M440.2 453.9h0M457.8 461.5h0M421.4 459.1h0M457.9 463.4h0M434.8 470.1h0M423.5 457.4h0M442.0 454.2h0M442.2 470.3h0M445.0 454.6h0M450.2 469.0h0M451.4 456.4h0M429.0 455.2h0M423.2 457.9h0M434.1 454.4h0M421.1 460.2h0M429.5 455.2h0M457.2 464.2h0M452.2 468.1h0M422.0 465.0h0M445.0 469.9h0M433.0 454.6h0M452.3 457.0h0M448.8 455.7h0M445.8 469.7h0M442.8 470.0h0M454.4 458.4h0M431.7 454.9h0" stroke="#d85a09" stroke-width="2.8" stroke-linecap="round" fill="none" stroke-opacity="0.92"/>
<path d="M428.1 455.8h0M433.0 469.5h0M445.8 469.6h0M424.8 466.8h0M432.8 454.8h0M424.1 466.3h0M421.4 461.0h0M422.5 464.9h0M421.4 461.2h0M456.8 462.5h0M446.9 469.3h0M456.5 461.2h0M445.5 455.1h0M450.0 468.5h0M424.0 466.1h0M423.1 465.3h0M456.4 464.1h0M422.2 464.2h0M449.2 468.6h0M445.3 469.4h0M432.3 455.1h0M456.6 463.2h0M442.6 469.7h0M431.8 455.2h0M440.1 454.6h0M426.8 456.7h0M456.4 462.0h0M455.6 460.2h0M456.1 461.4h0M454.3 459.1h0M455.6 460.6h0M422.1 462.1h0M448.4 456.2h0M456.1 462.1h0M434.3 455.0h0M455.8 461.4h0M436.5 469.4h0M426.4 457.2h0M434.3 455.1h0M426.2 466.7h0M427.6 467.4h0M427.8 456.7h0M422.5 462.4h0M431.9 468.6h0M444.2 455.4h0M429.8 456.1h0M426.1 457.6h0M436.3 455.0h0M436.7 455.0h0M455.4 463.5h0M440.2 469.3h0M425.2 465.8h0M434.7 455.3h0M423.1 463.6h0M438.0 469.3h0M423.1 461.1h0M431.7 468.3h0M429.0 467.5h0M451.4 467.0h0M453.6 459.4h0M451.2 467.0h0M428.2 467.2h0M429.3 456.6h0M423.7 460.2h0M433.3 455.6h0M437.6 469.1h0M425.0 465.3h0M427.6 457.3h0M436.5 455.4h0M453.6 465.3h0M453.7 465.1h0M432.6 455.9h0M445.5 456.0h0M425.4 458.8h0M433.1 455.8h0M428.6 467.1h0M443.1 468.8h0M425.3 465.1h0M440.1 468.9h0M454.5 463.4h0M453.9 460.5h0M433.5 455.9h0M436.4 455.5h0M452.2 459.0h0M454.4 462.2h0M453.0 459.7h0M452.5 465.6h0M452.2 459.1h0M447.6 456.9h0M454.0 461.4h0M444.6 456.2h0M441.2 468.7h0M444.2 468.4h0M453.1 460.0h0M440.1 468.7h0M448.0 457.1h0M452.9 464.9h0M425.1 464.0h0M434.8 468.2h0M451.3 466.0h0M452.3 465.2h0M453.5 461.4h0M428.4 457.8h0M449.1 457.8h0M425.6 464.2h0M448.8 467.0h0M436.6 468.3h0M451.8 465.4h0M435.6 468.1h0M439.1 468.4h0M447.7 457.4h0M433.4 467.7h0M451.8 459.7h0M429.7 457.5h0M425.1 462.1h0M425.2 461.9h0M443.8 468.0h0M439.4 468.2h0M439.5 456.2h0M447.4 467.1h0M430.3 457.5h0M445.5 467.5h0M430.7 466.6h0M427.8 459.0h0M452.4 461.5h0M425.9 461.8h0M437.3 456.4h0M451.2 459.9h0M426.7 464.0h0M446.8 457.6h0M451.2 460.1h0M436.4 456.6h0M426.4 460.9h0M448.0 458.2h0M447.1 466.8h0M428.5 465.2h0M428.4 465.2h0M440.5 456.6h0M450.9 464.8h0M430.9 466.3h0M451.2 460.3h0M449.9 465.5h0M426.6 463.0h0M449.6 459.2h0M447.8 458.3h0M427.8 459.8h0M430.6 466.0h0M444.4 457.3h0M434.3 457.1h0M428.2 459.5h0M437.2 456.8h0M447.0 458.2h0M448.8 459.0h0M427.9 460.0h0M440.7 467.4h0M451.0 461.1h0M434.2 457.3h0M440.0 467.4h0M440.3 457.0h0M432.8 457.7h0M448.0 465.8h0M428.0 460.5h0M448.8 465.3h0M427.5 462.2h0M427.7 463.0h0M430.0 458.9h0M433.5 466.5h0M434.3 457.6h0M444.8 457.9h0M433.6 457.7h0M443.5 457.6h0M445.1 458.1h0M444.8 466.5h0M450.4 462.2h0M431.8 465.7h0M429.4 464.1h0M439.2 457.5h0M431.5 465.4h0M439.3 466.8h0M428.5 462.6h0M429.4 464.0h0M447.2 465.3h0M449.7 462.3h0M430.0 464.1h0M429.5 460.5h0M434.2 466.0h0M448.5 464.1h0M429.7 463.3h0M448.8 461.2h0M437.0 458.0h0M448.9 461.6h0M449.0 462.2h0M442.2 458.2h0M447.8 460.4h0M448.6 461.4h0M439.3 466.3h0M448.5 462.5h0M446.0 465.0h0M446.8 460.0h0M431.6 464.2h0M438.0 466.0h0M442.9 465.8h0M448.2 462.3h0M431.2 460.5h0M442.1 465.9h0M447.7 461.1h0M440.8 458.4h0M442.0 465.8h0M437.4 458.4h0M447.5 463.4h0M430.9 462.6h0M433.8 464.9h0M436.0 458.8h0M438.7 458.6h0M447.1 463.5h0M446.3 460.5h0M443.2 459.1h0M446.2 460.5h0M444.8 459.7h0M434.5 459.3h0M440.7 465.6h0M445.8 464.2h0M443.9 465.0h0M438.9 465.5h0M441.5 465.4h0M432.4 460.6h0M431.8 461.5h0M439.1 459.0h0M446.4 462.3h0M437.6 465.0h0M442.5 459.7h0M432.8 462.5h0M445.6 461.7h0M433.7 460.9h0M434.8 460.3h0M433.6 461.2h0M442.6 460.0h0M435.3 463.9h0M441.8 464.3h0M437.2 464.3h0M434.1 462.8h0M439.8 464.5h0M433.9 462.2h0M437.4 460.0h0M443.5 460.9h0M437.0 464.1h0M435.3 463.5h0M438.8 460.0h0M442.7 460.8h0M435.6 463.3h0M443.9 461.9h0M441.6 463.9h0M437.1 463.8h0M435.4 461.1h0M439.2 464.0h0M443.6 461.9h0M436.9 463.5h0M440.5 463.8h0M441.4 463.7h0M441.5 460.8h0M442.0 463.3h0M438.0 460.8h0M436.6 462.7h0M437.5 462.9h0M441.7 462.1h0M437.3 461.8h0M438.8 463.1h0M439.0 461.4h0M438.7 462.7h0M439.2 461.8h0" stroke="#e0620d" stroke-width="2.8" stroke-linecap="round" fill="none" stroke-opacity="0.92"/>
<defs><filter id="bl5" x="-50%" y="-50%" width="200%" height="200%"><feGaussianBlur stdDeviation="5"/></filter><filter id="bl15" x="-50%" y="-50%" width="200%" height="200%"><feGaussianBlur stdDeviation="1.4"/></filter></defs>
<ellipse cx="440" cy="462" rx="36" ry="11" fill="#eeae4c" opacity="0.85" filter="url(#bl5)"/>
<g filter="url(#bl15)" fill="#fffbec"><ellipse cx="417.3" cy="465" rx="4.5" ry="4.5"/><ellipse cx="426.6" cy="461.2" rx="4.5" ry="4.5"/><ellipse cx="436.3" cy="462" rx="5" ry="4"/><ellipse cx="441.2" cy="466.1" rx="4.5" ry="4.5"/><ellipse cx="449.4" cy="459" rx="4" ry="7"/><ellipse cx="451.6" cy="465" rx="4.5" ry="4"/><ellipse cx="459.2" cy="461.2" rx="4" ry="4"/></g>
<defs><clipPath id="tl0"><path d="M80 185H277.5V385H80ZM232 283H277.5V385H232ZM190 374H232V385H190Z" clip-rule="evenodd"/></clipPath><clipPath id="tl1"><path d="M277.5 185H455V385H277.5ZM277.5 283H328V385H277.5Z" clip-rule="evenodd"/></clipPath><clipPath id="tl2"><path d="M455 185H640V385H455Z" clip-rule="evenodd"/></clipPath><clipPath id="tl3"><path d="M80 385H277.5V565H80ZM232 385H277.5V418H232ZM190 385H232V400H190Z" clip-rule="evenodd"/></clipPath><clipPath id="tl4"><path d="M277.5 385H455V565H277.5ZM277.5 385H328V418H277.5Z" clip-rule="evenodd"/></clipPath><clipPath id="tl5"><path d="M455 385H640V565H455ZM540 485H640V565H540Z" clip-rule="evenodd"/></clipPath><clipPath id="tl6"><path d="M80 565H277.5V740H80Z" clip-rule="evenodd"/></clipPath><clipPath id="tl7"><path d="M277.5 565H455V740H277.5Z" clip-rule="evenodd"/></clipPath><clipPath id="tl8"><path d="M455 565H640V740H455ZM478 698H496V722H478ZM540 565H640V658H540Z" clip-rule="evenodd"/></clipPath><clipPath id="pt0"><rect x="232" y="283" width="96" height="135"/></clipPath><clipPath id="pt1"><rect x="478" y="698" width="18" height="24"/></clipPath><clipPath id="pt2"><rect x="540" y="485" width="100" height="173"/></clipPath><clipPath id="pt3"><rect x="190" y="374" width="42" height="26"/></clipPath></defs>
<path clip-path="url(#tl0)" d="M171.5 192.9L177.6 197.3L187.3 203.4L199.5 208.3L214.1 209.5L228.7 209.0L238.5 206.6L248.2 201.0L255.5 196.1L260.4 192.9M285.0 258.2L277.4 257.7L270.1 260.6L260.4 261.9L253.1 265.5L245.8 270.4L238.5 276.5L232.4 283.8L228.7 289.9L226.3 297.2L226.8 306.9L228.7 315.5L232.4 322.8L236.0 328.9L243.3 336.2L253.1 342.3L260.4 348.3L265.3 353.7L262.8 360.5L259.2 366.6L254.3 373.9L245.8 377.6L240.9 377.6L231.2 382.4L221.4 386.1L211.7 387.3L204.4 385.6L194.6 387.3L184.9 388.5L180.0 390.0" fill="none" stroke="#730000" stroke-width="2.9" stroke-linejoin="round" stroke-linecap="round"/>
<path clip-path="url(#tl1)" d="M270.0 260.6L279.7 258.2L289.5 259.4L299.2 260.6L304.1 253.3L311.4 246.0L322.4 233.8L327.2 231.4L330.9 224.1L335.8 214.4L341.9 204.6L348.0 197.3L354.0 192.9M413.7 192.9L421.0 199.7L430.8 207.1L435.7 214.4L438.1 224.1L440.5 237.5L450.3 239.9L460.0 244.8L470.0 249.7" fill="none" stroke="#730000" stroke-width="2.9" stroke-linejoin="round" stroke-linecap="round"/>
<path clip-path="url(#tl2)" d="M440.0 226.5L441.2 237.5L449.7 239.9L459.5 246.0L466.8 252.1L474.1 255.8L488.7 255.8L498.5 256.3L508.2 259.4L518.0 263.1L524.0 266.7L532.6 267.5L544.8 268.0L554.5 271.6L561.8 274.0L569.1 280.1L576.4 287.4L583.7 294.8L587.4 302.1L588.6 311.8L587.4 322.8L584.9 333.7L578.9 342.3L586.2 348.3L593.5 352.0L600.8 360.5L608.1 367.8L610.5 377.6L613.0 390.0" fill="none" stroke="#730000" stroke-width="2.9" stroke-linejoin="round" stroke-linecap="round"/>
<path clip-path="url(#tl3)" d="M240.9 380.0L231.2 384.9L223.9 388.5L216.5 388.5L204.4 385.4L192.2 387.3L182.4 389.7L175.1 393.4L167.8 397.1L160.5 404.4L155.6 411.7L152.0 419.0L150.3 428.7L151.3 438.5L155.6 447.0L159.3 455.5L163.0 465.3L165.4 475.0L169.0 482.3L175.1 489.6L182.4 496.9L192.2 501.8L199.5 505.5L206.8 507.9L216.5 509.1L231.2 509.1L232.4 516.4L232.4 526.2L228.7 533.5L226.3 540.8L225.1 550.5L226.3 560.3L229.9 570.0L233.6 580.0" fill="none" stroke="#730000" stroke-width="2.9" stroke-linejoin="round" stroke-linecap="round"/>
<path clip-path="url(#tl5)" d="M611.7 380.0L613.4 387.3L610.5 397.1L605.7 406.8L599.6 416.5L594.7 425.1L595.9 436.0L598.3 445.8L602.0 458.0L602.0 470.1L599.6 477.4L600.8 484.8L606.9 494.5L611.7 501.8L614.2 511.5L614.2 521.3L611.7 531.0L610.5 540.8L611.7 550.5L617.8 556.6L625.1 561.5L632.4 567.6L640.0 572.4" fill="none" stroke="#730000" stroke-width="2.9" stroke-linejoin="round" stroke-linecap="round"/>
<path clip-path="url(#tl6)" d="M225.1 550.0L225.8 559.7L226.3 567.1L231.2 574.4L236.0 581.7L243.3 589.0L253.1 595.1L262.8 597.5L270.1 600.7L279.9 601.6L285.0 601.6" fill="none" stroke="#730000" stroke-width="2.9" stroke-linejoin="round" stroke-linecap="round"/>
<path clip-path="url(#tl7)" d="M270.0 599.9L279.7 599.9L289.5 600.7L301.7 601.6L305.3 608.5L310.2 617.0L315.1 624.3L318.7 632.8L322.4 641.4L328.5 647.4L335.8 654.8L343.1 659.6L350.4 664.5L356.5 669.4L361.4 676.7L366.2 684.0L368.7 691.3L368.7 701.0L368.7 710.8L369.9 720.5L372.3 727.8L375.2 735.1" fill="none" stroke="#730000" stroke-width="2.9" stroke-linejoin="round" stroke-linecap="round"/>
<path clip-path="url(#tl8)" d="M610.5 550.0L620.3 556.1L627.6 562.2L632.4 569.5L633.7 579.2L632.4 591.4L630.0 603.6L627.6 615.8L622.7 625.5L615.4 632.8L605.7 637.7L591.0 641.4L578.9 642.6L569.1 647.4L561.8 653.5L566.7 659.6L574.0 666.9L580.1 676.7L583.7 686.4L584.9 696.2L581.3 708.3L576.4 715.7L569.1 720.5L561.8 725.4L554.5 729.0L552.1 735.1" fill="none" stroke="#730000" stroke-width="2.9" stroke-linejoin="round" stroke-linecap="round"/>
<path clip-path="url(#pt0)" d="M226.0 316.0L230.0 319.2L233.4 324.4L240.2 332.9L248.8 339.7L257.3 344.8L265.0 353.4L261.6 361.9L257.3 368.7L253.9 375.6L245.4 378.1L236.8 382.4L230.0 384.1L226.0 385.0" fill="none" stroke="#730000" stroke-width="2.9" stroke-linejoin="round" stroke-linecap="round"/>
<path clip-path="url(#pt2)" d="M599.5 476.0L600.1 480.0L602.3 486.6L608.9 497.5L614.4 508.5L614.4 523.8L612.2 537.0L610.0 545.7L611.1 552.3L617.7 556.7L626.4 562.2L633.0 566.6L638.0 570.0M638.0 616.0L633.0 620.2L626.4 629.0L617.7 633.4L606.7 637.8L595.7 641.1L582.6 643.2L572.7 643.2L565.1 648.7L561.8 655.3L562.9 660.0L563.5 663.0" fill="none" stroke="#730000" stroke-width="2.9" stroke-linejoin="round" stroke-linecap="round"/>
<path clip-path="url(#pt3)" d="M185.0 386.0L194.9 385.2L205.5 384.6L216.2 386.8L225.4 387.7L234.5 383.7L238.0 381.0" fill="none" stroke="#730000" stroke-width="2.9" stroke-linejoin="round" stroke-linecap="round"/>
<path clip-path="url(#tl0)" d="M182.4 192.9L189.8 197.3L199.5 201.0L214.1 202.7L228.7 201.7L238.5 199.3L245.8 195.4L249.4 192.9M285.0 266.7L275.0 267.5L265.3 269.2L258.0 271.6L250.7 276.5L244.6 282.6L239.7 289.9L237.3 298.4L237.3 309.4L239.7 319.1L244.6 326.4L250.7 332.5L260.4 336.2L267.7 341.0L272.6 348.3L273.8 358.1L270.1 367.8L266.5 375.1L260.4 381.2L253.1 384.9L243.3 386.1L236.0 388.5L231.2 390.0" fill="none" stroke="#c80000" stroke-width="2.9" stroke-linejoin="round" stroke-linecap="round"/>
<path clip-path="url(#tl1)" d="M270.0 268.0L279.7 267.5L289.5 268.0L299.2 269.2L307.8 271.6L309.0 263.1L316.3 255.8L326.0 248.5L335.8 243.6L337.0 236.3L339.4 224.1L344.3 211.9L350.4 204.6L358.9 198.5L369.9 195.4L382.1 194.4L394.2 195.4L406.4 199.7L416.2 204.6L423.5 211.9L427.1 221.7L428.3 232.6L429.6 242.4L440.5 244.8L450.3 248.5L460.0 254.6L467.3 260.6L470.0 263.1M270.0 348.3L272.4 353.2L271.2 360.5L270.0 365.4" fill="none" stroke="#c80000" stroke-width="2.9" stroke-linejoin="round" stroke-linecap="round"/>
<path clip-path="url(#tl2)" d="M440.0 243.6L449.7 248.5L458.3 255.8L464.4 261.9L468.0 266.7L476.5 265.5L488.7 264.3L500.9 265.5L513.1 269.2L522.8 272.8L532.6 274.0L544.8 275.3L554.5 277.7L564.2 282.6L571.5 289.9L577.6 299.6L580.1 311.8L578.9 322.8L575.2 333.7L564.2 345.9L574.0 349.6L586.2 355.7L593.5 363.0L598.3 372.7L602.0 382.4L603.2 390.0" fill="none" stroke="#c80000" stroke-width="2.9" stroke-linejoin="round" stroke-linecap="round"/>
<path clip-path="url(#tl3)" d="M262.8 380.0L260.4 382.9L253.1 384.9L240.9 387.3L233.6 391.0L226.3 395.8L216.5 394.6L204.4 393.4L192.2 394.6L182.4 398.3L175.1 401.9L167.8 409.2L163.0 416.5L160.5 426.3L161.0 436.0L164.2 445.8L167.8 453.1L171.5 458.0L172.7 467.7L176.4 477.4L181.2 484.8L187.3 490.8L197.1 495.7L206.8 499.4L216.5 501.8L225.1 501.8L233.6 501.8L238.5 504.2L242.1 511.5L243.3 521.3L240.9 531.0L236.0 540.8L233.6 550.5L234.8 560.3L238.5 570.0L243.3 580.0" fill="none" stroke="#c80000" stroke-width="2.9" stroke-linejoin="round" stroke-linecap="round"/>
<path clip-path="url(#tl5)" d="M602.0 380.0L603.2 387.3L599.6 397.1L593.5 406.8L587.4 416.5L586.2 426.3L588.6 436.0L592.3 445.8L593.5 458.0L592.3 470.1L589.8 479.9L587.4 486.0L592.3 492.1L598.3 499.4L602.0 506.7L603.2 516.4L603.2 526.2L600.8 535.9L599.6 545.7L602.0 555.4L610.5 560.3L620.3 565.1L627.6 572.4L634.9 580.0" fill="none" stroke="#c80000" stroke-width="2.9" stroke-linejoin="round" stroke-linecap="round"/>
<path clip-path="url(#tl6)" d="M232.4 550.0L233.6 557.3L237.3 565.8L243.3 574.4L253.1 581.7L262.8 586.5L272.6 589.0L279.9 590.9L285.0 591.4" fill="none" stroke="#c80000" stroke-width="2.9" stroke-linejoin="round" stroke-linecap="round"/>
<path clip-path="url(#tl7)" d="M270.0 590.2L279.7 590.2L289.5 590.9L299.2 591.4L309.0 596.3L313.8 603.6L317.5 612.1L322.4 619.4L326.0 628.0L330.9 635.3L338.2 642.6L348.0 649.9L357.7 654.8L362.6 659.6L366.2 666.9L368.7 674.2L374.8 681.5L379.6 688.9L377.2 696.2L374.8 705.9L376.0 715.7L379.6 723.0L383.3 729.0L386.2 735.1" fill="none" stroke="#c80000" stroke-width="2.9" stroke-linejoin="round" stroke-linecap="round"/>
<path clip-path="url(#tl8)" d="M599.6 550.0L605.7 557.3L615.4 564.6L622.7 574.4L625.1 586.5L623.9 598.7L620.3 610.9L613.0 620.6L600.8 625.5L588.6 628.0L578.9 630.4L569.1 632.8L559.4 640.1L552.1 647.4L549.6 654.8L554.5 662.1L561.8 669.4L566.7 679.1L571.5 688.9L571.5 698.6L567.9 708.3L561.8 715.7L554.5 720.5L544.8 724.2L536.2 727.8L533.8 735.1" fill="none" stroke="#c80000" stroke-width="2.9" stroke-linejoin="round" stroke-linecap="round"/>
<path clip-path="url(#pt0)" d="M249.0 276.0L247.1 280.0L240.2 288.5L237.7 297.1L237.7 309.0L240.2 319.2L247.1 327.8L255.6 334.6L265.8 339.7L271.0 346.6L273.5 353.4L271.0 361.9L266.7 370.4L265.0 379.0L257.3 383.2L247.1 385.8L236.8 390.9L230.0 394.3L226.0 396.0" fill="none" stroke="#c80000" stroke-width="2.9" stroke-linejoin="round" stroke-linecap="round"/>
<path clip-path="url(#pt2)" d="M589.5 476.0L589.2 480.0L588.1 484.4L593.5 493.1L600.1 504.1L601.2 517.3L600.1 530.4L600.1 543.5L600.1 554.5L608.9 561.1L619.8 565.5L627.5 572.0L631.9 580.8L634.5 589.6L634.5 602.7L628.6 615.9L622.0 622.4L613.3 626.8L600.1 630.1L587.0 631.2L573.8 631.2L567.3 635.6L560.7 642.2L551.9 650.9L549.7 655.3L550.8 660.0L551.5 663.0" fill="none" stroke="#c80000" stroke-width="2.9" stroke-linejoin="round" stroke-linecap="round"/>
<path clip-path="url(#pt3)" d="M185.0 395.5L188.8 394.4L201.0 392.9L216.2 394.4L228.4 394.4L240.6 389.8L244.0 388.5" fill="none" stroke="#c80000" stroke-width="2.9" stroke-linejoin="round" stroke-linecap="round"/>
<path clip-path="url(#tl0)" d="M285.0 274.0L275.0 275.3L265.3 277.7L258.0 283.8L253.1 289.9L248.7 298.4L247.7 306.9L248.7 316.7L253.1 325.2L260.4 331.3L270.1 334.9L277.4 337.4L282.3 345.9L283.5 355.7L281.1 365.4L277.4 375.1L273.8 382.4L272.1 390.0" fill="none" stroke="#ff8282" stroke-width="2.9" stroke-linejoin="round" stroke-linecap="round"/>
<path clip-path="url(#tl1)" d="M270.0 277.7L279.7 276.5L289.5 277.7L299.2 281.4L309.0 287.4L316.3 293.5L322.4 297.2L330.9 296.0L324.8 289.9L321.2 280.1L319.9 268.0L321.2 258.2L328.5 248.5L340.6 243.6L348.0 242.4L348.0 229.0L350.4 216.8L358.9 207.1L369.9 202.2L382.1 201.0L394.2 202.7L405.2 207.1L413.7 214.4L417.4 224.1L417.4 236.3L416.2 246.0L408.9 253.8L405.2 255.8L416.2 253.8L428.3 253.8L440.5 256.3L452.7 263.1L460.0 270.4L463.7 276.5L470.0 278.2M394.2 260.6L399.1 259.2L404.0 260.2L401.5 262.1L395.5 262.1L394.2 260.6M270.0 332.5L279.7 338.6L283.4 350.8L283.4 360.5L279.7 375.1L277.3 390.0" fill="none" stroke="#ff8282" stroke-width="2.9" stroke-linejoin="round" stroke-linecap="round"/>
<path clip-path="url(#tl2)" d="M440.0 254.6L449.7 260.6L457.1 268.0L461.9 275.3L463.1 278.9L471.7 275.3L483.8 272.8L496.0 274.0L508.2 278.9L518.0 283.8L532.6 285.0L544.8 285.0L554.5 287.4L561.8 294.8L566.7 304.5L569.1 316.7L566.7 328.9L559.4 336.2L553.3 343.5L554.5 353.2L559.4 358.1L569.1 361.7L578.9 365.4L586.2 371.5L591.0 380.0L593.5 390.0" fill="none" stroke="#ff8282" stroke-width="2.9" stroke-linejoin="round" stroke-linecap="round"/>
<path clip-path="url(#tl3)" d="M272.6 380.0L271.4 392.2L255.5 395.8L240.9 399.5L231.2 405.6L219.0 404.4L204.4 402.4L192.2 403.1L182.4 406.8L175.1 414.1L171.5 423.8L170.7 433.6L173.9 443.3L178.8 450.6L181.2 455.5L182.4 465.3L184.9 475.0L189.8 482.3L197.1 488.4L206.8 492.1L216.5 493.3L226.3 493.3L238.5 492.1L243.3 493.3L248.2 499.4L253.1 506.7L254.3 516.4L254.3 528.6L250.7 538.3L247.0 545.7L245.8 555.4L248.2 565.1L255.5 572.4L265.3 578.5L270.1 580.0" fill="none" stroke="#ff8282" stroke-width="2.9" stroke-linejoin="round" stroke-linecap="round"/>
<path clip-path="url(#tl5)" d="M592.3 380.0L593.5 389.7L589.8 399.5L583.7 406.8L576.4 411.7L574.0 420.2L575.2 431.2L578.9 440.9L581.3 453.1L580.1 465.3L576.4 476.2L572.8 484.8L578.9 492.1L586.2 499.4L591.0 509.1L592.3 518.9L591.0 528.6L588.6 538.3L588.6 550.5L593.5 560.3L600.8 567.6L610.5 572.4L617.8 580.0" fill="none" stroke="#ff8282" stroke-width="2.9" stroke-linejoin="round" stroke-linecap="round"/>
<path clip-path="url(#tl6)" d="M243.3 550.0L245.8 559.7L250.7 567.1L258.0 574.4L267.7 579.2L277.4 582.2L285.0 582.9" fill="none" stroke="#ff8282" stroke-width="2.9" stroke-linejoin="round" stroke-linecap="round"/>
<path clip-path="url(#tl7)" d="M270.0 581.7L279.7 581.2L289.5 581.7L299.2 582.9L311.4 586.5L319.9 589.0L321.2 596.3L324.8 606.0L329.7 615.8L334.6 624.3L339.4 632.8L345.5 640.1L352.8 646.2L362.6 650.4L374.8 653.5L377.2 659.6L382.1 669.4L389.4 679.1L391.8 688.9L390.6 696.2L386.9 705.9L389.4 715.7L394.2 723.0L399.1 729.0L403.3 735.1" fill="none" stroke="#ff8282" stroke-width="2.9" stroke-linejoin="round" stroke-linecap="round"/>
<path clip-path="url(#tl8)" d="M589.8 550.0L588.6 557.3L591.0 563.4L600.8 569.5L610.5 576.8L615.4 586.5L615.4 598.7L610.5 608.5L598.3 615.8L581.3 618.2L569.1 620.6L564.2 625.5L559.4 635.3L549.6 642.6L542.3 647.4L536.2 653.5L541.1 662.1L549.6 669.4L556.9 676.7L561.8 684.0L564.2 693.7L561.8 705.9L552.1 715.7L539.9 720.5L527.7 723.0L522.8 729.0L521.6 735.1" fill="none" stroke="#ff8282" stroke-width="2.9" stroke-linejoin="round" stroke-linecap="round"/>
<path clip-path="url(#pt0)" d="M295.0 279.5L299.2 281.4L309.0 287.4L316.3 293.5L322.4 297.2L330.9 296.0L324.8 289.9L321.2 280.1L320.5 277.0M265.0 277.0L262.4 280.0L253.9 285.1L248.8 293.7L247.9 305.6L250.5 315.8L257.3 322.7L267.5 327.8L276.1 334.6L281.2 344.8L284.6 353.4L281.2 363.6L276.1 372.2L271.8 382.4L271.0 393.5L264.1 394.3L250.5 396.0L238.5 401.2L230.0 406.3L226.0 409.0" fill="none" stroke="#ff8282" stroke-width="2.9" stroke-linejoin="round" stroke-linecap="round"/>
<path clip-path="url(#pt2)" d="M579.0 476.0L577.1 480.0L572.7 486.6L577.1 493.1L584.8 501.9L589.2 512.9L590.3 523.8L589.2 537.0L589.2 550.1L591.4 561.1L602.3 567.7L613.3 574.2L622.0 583.0L625.3 593.9L624.2 604.9L619.8 613.7L611.1 620.2L597.9 623.5L584.8 623.5L571.6 620.2L566.2 620.2L565.1 624.6L558.5 631.2L551.9 637.8L543.1 644.3L537.7 653.1L536.6 660.0L536.5 663.0" fill="none" stroke="#ff8282" stroke-width="2.9" stroke-linejoin="round" stroke-linecap="round"/>
<path clip-path="url(#tl0)" d="M285.0 286.2L277.4 285.5L270.1 287.4L264.0 293.5L259.9 302.1L260.9 310.6L266.5 319.1L275.0 323.5L285.0 325.2" fill="none" stroke="#a6a6ff" stroke-width="2.9" stroke-linejoin="round" stroke-linecap="round"/>
<path clip-path="url(#tl1)" d="M383.3 210.7L396.7 214.4L405.2 222.9L407.6 232.6L402.8 243.6L391.8 249.7L379.6 250.9L367.4 246.0L360.1 237.5L359.6 226.5L365.0 216.8L373.5 211.9L383.3 210.7M270.0 286.2L279.7 285.0L289.5 287.4L296.8 292.3L301.7 299.6L306.5 306.9L318.7 308.1L330.9 306.9L343.1 308.1L355.3 309.4L365.0 313.0L374.8 307.4L367.4 303.3L360.1 299.6L350.4 293.5L340.6 288.7L333.3 282.6L330.9 272.8L332.1 263.1L337.0 257.0L345.5 253.8L355.3 253.3L365.0 257.0L374.8 263.1L384.5 269.2L393.0 275.3L396.7 281.4L397.9 288.7L402.8 289.9L404.0 282.6L407.6 275.3L413.7 268.0L421.0 264.3L430.8 263.1L440.5 266.7L447.8 272.8L451.5 282.6L450.3 292.3L446.6 300.8L450.3 306.9L457.6 314.2L463.7 319.1L467.3 314.2L468.5 304.5L470.0 297.2M270.0 321.5L279.7 322.8L284.6 326.4L288.3 336.2L289.5 348.3L289.5 360.5L287.1 372.7L283.4 384.9L282.2 390.0" fill="none" stroke="#a6a6ff" stroke-width="2.9" stroke-linejoin="round" stroke-linecap="round"/>
<path clip-path="url(#tl2)" d="M440.0 266.7L446.1 270.4L451.0 277.7L451.0 287.4L447.3 294.8L446.1 302.1L451.0 309.4L457.1 316.7L463.1 319.1L465.6 314.2L466.8 304.5L469.2 294.8L475.3 287.4L486.3 284.5L498.5 285.0L505.8 288.7L513.1 296.0L518.0 298.4L527.7 296.0L537.4 294.8L547.2 297.2L554.5 304.5L556.9 314.2L555.7 321.5L549.6 328.9L537.4 336.2L539.9 345.9L539.9 355.7L536.2 363.0L527.7 367.8L520.4 371.5L527.7 375.1L535.0 377.6L542.3 371.5L552.1 367.8L564.2 367.8L574.0 372.7L578.9 380.0L581.3 390.0" fill="none" stroke="#a6a6ff" stroke-width="2.9" stroke-linejoin="round" stroke-linecap="round"/>
<path clip-path="url(#tl3)" d="M283.5 380.0L282.3 392.2L281.1 404.4L279.9 409.7L265.3 404.4L250.7 406.8L240.9 414.1L238.5 421.4L239.7 428.7L238.5 438.5L237.3 448.2L231.2 445.8L229.9 438.5L229.9 428.7L226.3 421.4L219.0 415.3L209.2 411.7L197.1 412.9L187.3 419.0L183.7 428.7L184.9 438.5L189.8 445.8L195.8 450.6L195.8 460.4L197.1 467.7L201.9 475.0L209.2 479.9L219.0 482.3L228.7 479.9L236.0 475.0L242.1 467.7L244.6 466.5L247.0 470.1L250.7 482.3L255.5 492.1L262.8 499.4L265.3 511.5L266.5 521.3L271.4 532.3L265.3 538.3L259.2 543.2L256.7 550.5L258.0 560.3L265.3 568.8L275.0 572.4L285.0 573.7" fill="none" stroke="#a6a6ff" stroke-width="2.9" stroke-linejoin="round" stroke-linecap="round"/>
<path clip-path="url(#tl4)" d="M284.6 380.0L283.4 394.6L282.2 406.8L279.7 411.7L273.7 408.0L270.0 405.6M270.0 571.2L284.6 568.8L296.8 567.6L309.0 572.4L328.5 576.1L340.6 577.3" fill="none" stroke="#a6a6ff" stroke-width="2.9" stroke-linejoin="round" stroke-linecap="round"/>
<path clip-path="url(#tl5)" d="M580.1 380.0L581.3 389.7L577.6 399.5L569.1 404.4L561.8 406.8L558.1 411.7L561.8 423.8L566.7 433.6L571.5 445.8L572.8 455.5L571.5 465.3L566.7 475.0L560.6 482.3L560.6 489.6L567.9 499.4L575.2 509.1L578.9 518.9L577.6 528.6L574.0 535.9L575.2 545.7L577.6 555.4L581.3 567.6L586.2 574.9L591.0 580.0" fill="none" stroke="#a6a6ff" stroke-width="2.9" stroke-linejoin="round" stroke-linecap="round"/>
<path clip-path="url(#tl6)" d="M256.7 550.0L258.0 557.3L262.8 564.6L270.1 569.5L277.4 571.9L285.0 573.1" fill="none" stroke="#a6a6ff" stroke-width="2.9" stroke-linejoin="round" stroke-linecap="round"/>
<path clip-path="url(#tl7)" d="M270.0 571.9L279.7 572.4L289.5 570.7L296.8 568.3L306.5 570.7L318.7 575.6L328.5 577.3L337.0 579.2L335.8 589.0L334.6 598.7L338.2 608.5L343.1 618.2L345.5 628.0L352.8 635.3L362.6 640.1L372.3 641.4L384.5 641.4L395.5 642.6L391.8 647.4L389.4 654.8L388.1 664.5L393.0 671.8L400.3 679.1L406.4 684.0L407.6 691.3L406.4 701.0L400.3 708.3L399.1 715.7L404.0 720.5L411.3 725.4L423.5 727.8L435.7 725.4L445.4 721.7L452.7 715.7L458.8 710.8M458.8 710.8L455.1 715.7L451.5 720.5L450.3 727.8L450.3 735.1" fill="none" stroke="#a6a6ff" stroke-width="2.9" stroke-linejoin="round" stroke-linecap="round"/>
<path clip-path="url(#tl8)" d="M576.7 550.0L577.3 557.3L578.6 565.8L580.4 572.5L587.7 574.4L595.0 575.6L600.0 578.0M600.0 612.1L590.1 613.9L582.8 612.1L575.5 608.5L569.4 602.4L566.4 596.3L565.2 590.2L562.1 588.4L553.6 587.8L545.1 585.3L536.5 579.2L532.3 574.4L530.5 569.5L529.2 564.0L527.8 565.8L527.4 569.5L529.2 574.4L529.2 579.2L529.2 589.0L532.9 591.4L540.2 593.2L546.3 596.9L552.4 602.4L555.4 608.5L556.0 614.6L553.6 620.6L548.7 625.5L541.4 630.4L536.5 635.3L531.7 641.4L524.4 645.0L514.6 647.4L513.4 650.0M586.2 573.1L595.9 574.4L608.1 581.7L613.0 591.4L610.5 601.2L603.2 608.5L591.0 613.3L578.9 612.1M513.6 649.9L518.0 652.3L527.7 657.2L537.4 666.9L544.8 676.7L550.8 686.4L553.3 696.2L550.8 704.7L539.9 708.8L527.7 710.8L519.2 715.7L514.3 724.2L511.4 735.1M458.8 710.8L454.6 715.7L451.0 720.5L449.7 727.8L449.7 735.1" fill="none" stroke="#a6a6ff" stroke-width="2.9" stroke-linejoin="round" stroke-linecap="round"/>
<path clip-path="url(#pt0)" d="M281.2 285.1L271.0 286.8L264.1 291.9L259.9 298.8L259.9 309.0L264.1 315.8L271.0 321.8L279.5 324.4L286.3 326.1L288.9 334.6L293.1 344.8L297.4 353.4L294.8 363.6L288.0 375.6L282.9 387.5L282.0 399.5L281.2 411.4L271.0 406.3L259.0 402.9L248.8 404.6L240.2 411.4L236.8 420.0L235.5 424.0M281.2 285.1L291.4 286.8L300.0 291.9L305.1 300.5L308.5 307.3L320.4 307.3L330.0 306.5L334.0 306.3" fill="none" stroke="#a6a6ff" stroke-width="2.9" stroke-linejoin="round" stroke-linecap="round"/>
<path clip-path="url(#pt2)" d="M564.0 476.0L562.9 480.0L559.6 486.6L560.7 493.1L569.4 499.7L577.1 506.3L581.5 515.1L581.5 523.8L577.1 532.6L574.9 541.4L576.0 552.3L577.1 565.5L580.4 572.0L593.5 576.4L604.5 583.0L611.1 589.6L612.2 598.3L608.9 604.9L602.3 610.4L593.5 612.6L582.6 611.5L573.8 608.2L567.3 602.7L565.1 593.9L560.7 587.4L551.9 586.3L541.0 583.0L534.4 578.6L530.0 572.0M530.0 589.6L538.8 593.9L549.7 600.5L555.2 609.3L555.2 618.0L551.9 626.8L545.3 633.4L536.6 637.8L530.0 642.2" fill="none" stroke="#a6a6ff" stroke-width="2.9" stroke-linejoin="round" stroke-linecap="round"/>
<path clip-path="url(#tl1)" d="M304.1 390.0L307.8 384.9L309.0 377.6L311.4 370.3L313.8 363.0L317.5 358.1L313.8 350.8L310.2 342.3L305.3 336.2L304.1 330.1L309.0 324.0L318.7 321.5L330.9 322.8L341.9 320.3L349.2 322.8L351.6 328.9L349.2 334.9L341.9 336.2L335.8 338.6L333.3 345.9L332.1 355.7L327.2 360.5L324.8 364.2L328.5 369.0L335.8 371.5L343.1 369.0L348.0 363.0L349.2 355.7L351.6 348.3L358.9 341.0L367.4 333.7L377.2 327.6L386.9 323.5L396.7 322.8L402.8 328.9L406.4 336.2L413.7 333.7L418.6 328.9L422.3 319.1L427.1 314.2L430.8 313.0L435.7 316.7L436.9 325.2L439.3 333.7L447.8 333.7L455.1 333.7L461.2 338.6L463.7 348.3L464.9 358.1L467.3 365.4L470.0 370.3" fill="none" stroke="#0a14f0" stroke-width="2.9" stroke-linejoin="round" stroke-linecap="round"/>
<path clip-path="url(#tl2)" d="M440.0 332.5L449.7 332.5L459.5 336.2L463.1 343.5L464.4 353.2L468.0 363.0L476.5 370.3L488.7 373.9L498.5 377.6L508.2 382.4L513.1 387.3L515.5 390.0M502.1 353.2L510.6 348.3L518.0 347.1L516.7 350.8L509.4 354.4L503.3 355.2L502.1 353.2" fill="none" stroke="#0a14f0" stroke-width="2.9" stroke-linejoin="round" stroke-linecap="round"/>
<path clip-path="url(#tl3)" d="M285.0 431.2L277.4 428.7L264.0 422.6L259.2 428.7L255.5 440.9L254.3 450.6L258.0 458.0L265.3 464.0L268.9 470.1L266.5 477.4L268.9 487.2L277.4 494.5L285.0 500.6M283.5 511.5L285.0 512.8L285.0 518.9L283.5 517.6L283.5 511.5" fill="none" stroke="#0a14f0" stroke-width="2.9" stroke-linejoin="round" stroke-linecap="round"/>
<path clip-path="url(#tl4)" d="M310.2 380.0L309.0 384.9L304.1 392.2L300.5 401.9L300.5 411.7L304.1 419.0L309.0 425.1L310.2 428.7L309.0 432.4L301.7 434.1L291.9 431.6L282.2 427.5L270.0 423.4M334.1 393.4L335.8 392.2L337.5 393.4L335.8 394.6L334.1 393.4M270.0 487.2L277.3 494.5L284.6 501.8L287.1 503.0L294.4 498.1L301.7 496.9L309.0 501.8L313.8 509.1L315.1 515.2L309.0 516.4L299.2 510.3L291.9 506.7L287.1 509.1L284.6 516.4L288.3 523.7L294.4 528.6L301.7 535.9L309.0 543.2L315.1 548.1L317.5 554.2L318.7 560.3L328.5 561.5L340.6 560.3L352.8 561.5L360.1 565.1L362.6 572.4L363.8 580.0" fill="none" stroke="#0a14f0" stroke-width="2.9" stroke-linejoin="round" stroke-linecap="round"/>
<path clip-path="url(#tl5)" d="M500.9 380.0L505.8 383.7L513.1 388.5L515.5 394.6L513.1 399.5L518.0 406.8L527.7 416.5L539.9 423.8L542.3 433.6L549.6 443.3L556.9 453.1L559.4 462.8L554.5 475.0L547.2 479.9L544.8 487.2L546.0 496.9L550.8 506.7L559.4 515.2L549.6 516.4L537.4 517.6L533.8 521.3L531.4 531.0L530.1 540.8L524.0 548.1L515.5 553.0L510.6 560.3L508.2 570.0L510.6 580.0" fill="none" stroke="#0a14f0" stroke-width="2.9" stroke-linejoin="round" stroke-linecap="round"/>
<path clip-path="url(#tl7)" d="M315.1 550.0L316.3 554.9L321.2 559.7L328.5 562.2L338.2 561.0L348.0 559.7L357.7 561.0L362.6 567.1L363.8 576.8L362.6 584.1L355.3 586.5L351.6 590.2L350.4 596.3L352.8 599.9L360.1 601.2L367.4 596.3L373.5 592.6L378.4 596.3L383.3 602.4L389.4 606.0L396.7 607.2L405.2 608.0L396.7 609.0L384.5 609.7L374.8 610.4L367.4 612.1L363.8 615.8L362.6 620.6L367.4 624.3L377.2 628.0L389.4 629.2L399.1 628.0L411.3 626.7L421.0 624.3L430.8 621.9L440.5 622.6L446.6 625.5L445.4 632.8L440.5 640.1L435.7 645.0L429.6 648.7L435.7 652.3L441.7 657.2L444.2 664.5L440.5 671.8L433.2 676.7L429.6 682.8L435.7 685.2L441.7 685.2L444.2 681.5L450.3 677.9L460.0 676.2L470.0 676.2M470.0 618.2L464.9 623.1L462.4 629.2L466.1 634.0L470.0 636.5" fill="none" stroke="#0a14f0" stroke-width="2.9" stroke-linejoin="round" stroke-linecap="round"/>
<path clip-path="url(#tl8)" d="M515.5 550.0L510.6 554.9L507.0 562.2L507.0 574.4L510.6 586.5L508.2 601.2L500.9 599.9L493.6 601.2L486.3 606.0L476.5 613.3L468.0 620.6L463.1 630.4L469.2 637.7L476.5 642.6L483.8 647.4L488.7 654.8L493.6 662.1L500.9 666.9L508.2 669.4L513.1 674.2L513.1 679.1L505.8 682.8L498.5 684.0L493.6 680.3L486.3 677.9L471.7 676.7L459.5 676.7L449.7 680.3L442.4 685.2L440.0 686.4M488.7 626.7L496.0 630.4L497.2 636.5L492.4 641.4L486.3 641.4L481.4 636.5L482.6 629.2L488.7 626.7M440.0 623.1L446.1 625.5L447.3 630.4L444.9 635.3L440.0 640.1M440.0 654.8L443.7 659.6L442.4 664.5L440.0 666.9" fill="none" stroke="#0a14f0" stroke-width="2.9" stroke-linejoin="round" stroke-linecap="round"/>
<path clip-path="url(#pt0)" d="M334.0 321.0L330.0 321.0L318.7 321.0L310.2 324.4L303.4 331.2L305.1 339.7L311.9 348.3L317.0 358.5L310.2 368.7L308.5 375.6L311.9 382.4L305.1 389.2L301.7 399.5L299.1 409.7L301.7 420.0L302.5 424.0M332.0 355.0L330.0 356.8L325.6 361.9L324.7 365.3L330.0 372.2L332.0 374.0" fill="none" stroke="#0a14f0" stroke-width="2.9" stroke-linejoin="round" stroke-linecap="round"/>
<path clip-path="url(#pt1)" d="M485.0 701.5L488.0 703.9L490.4 707.5L491.6 711.8L491.6 715.4L491.6 719.3L488.0 718.4L485.0 716.6L482.5 713.6L481.0 709.3L480.7 705.4L483.1 702.1L485.0 701.5" fill="none" stroke="#0a14f0" stroke-width="2.9" stroke-linejoin="round" stroke-linecap="round"/>
<path clip-path="url(#pt2)" d="M547.0 476.0L546.4 480.0L544.2 486.6L544.2 497.5L549.7 506.3L556.3 512.9L558.5 515.1L543.1 517.3L534.4 518.3" fill="none" stroke="#0a14f0" stroke-width="2.9" stroke-linejoin="round" stroke-linecap="round"/>
<path d="M316.3 465.3L321.2 458.0L330.9 447.0L340.6 438.5L350.4 432.4L362.6 426.3L374.8 421.5L380.0 419.7L387.3 416.1L394.5 410.1L404.2 405.2L411.4 399.2L419.9 393.1L430.8 390.1L440.5 388.3L446.5 386.5L452.6 386.5L456.2 389.5L458.6 395.6L461.0 400.4L467.1 404.0L474.3 408.9L480.0 413.7L488.7 417.5L500.9 423.8L513.1 431.2L525.3 438.5L532.6 445.8L536.2 455.5L537.4 460.4L535.0 467.7L530.1 477.4L522.8 487.2L513.1 496.9L500.9 509.1L494.0 518.0L490.0 524.8L484.3 529.7L477.1 533.3L469.8 539.3L462.6 546.0L454.1 549.6L450.5 555.1L446.2 560.5L440.8 561.7L432.3 559.9L423.9 556.3L416.6 552.0L409.3 549.0L404.5 544.2L402.1 538.1L400.9 532.1L396.0 527.3L390.0 523.0L384.5 521.3L372.3 511.5L362.6 501.8L352.8 494.5L343.1 487.2L330.9 479.9L321.2 472.6Z" fill="none" stroke="#0000c0" stroke-width="2.9" stroke-linejoin="round"/>
<path d="M365.6 463.4L368.5 454.7L376.3 449.8L389.8 446.0L405.3 441.1L420.8 436.3L430.4 432.4L438.2 427.6L449.8 425.1L463.3 426.2L474.9 431.4L486.6 440.1L498.2 449.8L504.9 459.5L504.0 468.2L496.2 476.9L484.6 484.6L471.1 491.4L455.6 496.3L444.0 497.2L432.4 496.3L418.8 493.4L403.4 488.5L389.8 482.7L376.3 476.9L368.5 471.1Z" fill="none" stroke="#00007a" stroke-width="2.9" stroke-linejoin="round"/>
</g>
<path d="M617.8 445.0L619.7 450.3L625.4 450.5L620.9 454.0L622.5 459.5L617.8 456.3L613.1 459.5L614.7 454.0L610.2 450.5L615.9 450.3Z" fill="#000"/>
<path d="M88.5 12.1H633.5V734.1H88.5ZM88.5 192.9H815.5V734.1H633.5" fill="none" stroke="#000" stroke-width="1.6"/>
<path d="M88.5 734.1v-5.5M88.5 192.9v5.5M106.7 734.1v-2.8M106.7 192.9v2.8M124.8 734.1v-2.8M124.8 192.9v2.8M143.0 734.1v-2.8M143.0 192.9v2.8M161.2 734.1v-2.8M161.2 192.9v2.8M179.3 734.1v-5.5M179.3 192.9v5.5M197.5 734.1v-2.8M197.5 192.9v2.8M215.7 734.1v-2.8M215.7 192.9v2.8M233.8 734.1v-2.8M233.8 192.9v2.8M252.0 734.1v-2.8M252.0 192.9v2.8M270.2 734.1v-5.5M270.2 192.9v5.5M288.3 734.1v-2.8M288.3 192.9v2.8M306.5 734.1v-2.8M306.5 192.9v2.8M324.7 734.1v-2.8M324.7 192.9v2.8M342.8 734.1v-2.8M342.8 192.9v2.8M361.0 734.1v-5.5M361.0 192.9v5.5M379.2 734.1v-2.8M379.2 192.9v2.8M397.3 734.1v-2.8M397.3 192.9v2.8M415.5 734.1v-2.8M415.5 192.9v2.8M433.7 734.1v-2.8M433.7 192.9v2.8M451.8 734.1v-5.5M451.8 192.9v5.5M470.0 734.1v-2.8M470.0 192.9v2.8M488.2 734.1v-2.8M488.2 192.9v2.8M506.3 734.1v-2.8M506.3 192.9v2.8M524.5 734.1v-2.8M524.5 192.9v2.8M542.7 734.1v-5.5M542.7 192.9v5.5M560.8 734.1v-2.8M560.8 192.9v2.8M579.0 734.1v-2.8M579.0 192.9v2.8M597.2 734.1v-2.8M597.2 192.9v2.8M615.3 734.1v-2.8M615.3 192.9v2.8M633.5 734.1v-5.5M633.5 192.9v5.5M88.5 734.1h5.5M633.5 734.1h-5.5M815.5 734.1h-5.5M633.5 734.1h6.2M88.5 716.1h2.8M633.5 716.1h-2.8M815.5 716.1h-2.8M633.5 716.1h3.5M88.5 698.0h2.8M633.5 698.0h-2.8M815.5 698.0h-2.8M633.5 698.0h3.5M88.5 680.0h2.8M633.5 680.0h-2.8M815.5 680.0h-2.8M633.5 680.0h3.5M88.5 661.9h2.8M633.5 661.9h-2.8M815.5 661.9h-2.8M633.5 661.9h3.5M88.5 643.9h5.5M633.5 643.9h-5.5M815.5 643.9h-5.5M633.5 643.9h6.2M88.5 625.9h2.8M633.5 625.9h-2.8M815.5 625.9h-2.8M633.5 625.9h3.5M88.5 607.8h2.8M633.5 607.8h-2.8M815.5 607.8h-2.8M633.5 607.8h3.5M88.5 589.8h2.8M633.5 589.8h-2.8M815.5 589.8h-2.8M633.5 589.8h3.5M88.5 571.7h2.8M633.5 571.7h-2.8M815.5 571.7h-2.8M633.5 571.7h3.5M88.5 553.7h5.5M633.5 553.7h-5.5M815.5 553.7h-5.5M633.5 553.7h6.2M88.5 535.7h2.8M633.5 535.7h-2.8M815.5 535.7h-2.8M633.5 535.7h3.5M88.5 517.6h2.8M633.5 517.6h-2.8M815.5 517.6h-2.8M633.5 517.6h3.5M88.5 499.6h2.8M633.5 499.6h-2.8M815.5 499.6h-2.8M633.5 499.6h3.5M88.5 481.5h2.8M633.5 481.5h-2.8M815.5 481.5h-2.8M633.5 481.5h3.5M88.5 463.5h5.5M633.5 463.5h-5.5M815.5 463.5h-5.5M633.5 463.5h6.2M88.5 445.5h2.8M633.5 445.5h-2.8M815.5 445.5h-2.8M633.5 445.5h3.5M88.5 427.4h2.8M633.5 427.4h-2.8M815.5 427.4h-2.8M633.5 427.4h3.5M88.5 409.4h2.8M633.5 409.4h-2.8M815.5 409.4h-2.8M633.5 409.4h3.5M88.5 391.3h2.8M633.5 391.3h-2.8M815.5 391.3h-2.8M633.5 391.3h3.5M88.5 373.3h5.5M633.5 373.3h-5.5M815.5 373.3h-5.5M633.5 373.3h6.2M88.5 355.3h2.8M633.5 355.3h-2.8M815.5 355.3h-2.8M633.5 355.3h3.5M88.5 337.2h2.8M633.5 337.2h-2.8M815.5 337.2h-2.8M633.5 337.2h3.5M88.5 319.2h2.8M633.5 319.2h-2.8M815.5 319.2h-2.8M633.5 319.2h3.5M88.5 301.1h2.8M633.5 301.1h-2.8M815.5 301.1h-2.8M633.5 301.1h3.5M88.5 283.1h5.5M633.5 283.1h-5.5M815.5 283.1h-5.5M633.5 283.1h6.2M88.5 265.1h2.8M633.5 265.1h-2.8M815.5 265.1h-2.8M633.5 265.1h3.5M88.5 247.0h2.8M633.5 247.0h-2.8M815.5 247.0h-2.8M633.5 247.0h3.5M88.5 229.0h2.8M633.5 229.0h-2.8M815.5 229.0h-2.8M633.5 229.0h3.5M88.5 210.9h2.8M633.5 210.9h-2.8M815.5 210.9h-2.8M633.5 210.9h3.5M88.5 192.9h5.5M633.5 192.9h-5.5M815.5 192.9h-5.5M633.5 192.9h6.2M88.5 192.9v-2.8M88.5 12.1v2.8M133.9 192.9v-2.8M133.9 12.1v2.8M179.3 192.9v-5.5M179.3 12.1v5.5M224.8 192.9v-2.8M224.8 12.1v2.8M270.2 192.9v-2.8M270.2 12.1v2.8M315.6 192.9v-2.8M315.6 12.1v2.8M361.0 192.9v-5.5M361.0 12.1v5.5M406.4 192.9v-2.8M406.4 12.1v2.8M451.8 192.9v-2.8M451.8 12.1v2.8M497.2 192.9v-2.8M497.2 12.1v2.8M542.7 192.9v-5.5M542.7 12.1v5.5M588.1 192.9v-2.8M588.1 12.1v2.8M633.5 192.9v-2.8M633.5 12.1v2.8M88.5 25.4h5.5M88.5 115.8h5.5M802.3 734.1v-5.5M711.0 734.1v-5.5" fill="none" stroke="#000" stroke-width="1.2"/>
<g transform="translate(87.9,769.3) scale(0.92,1)"><text font-family="Liberation Serif, serif" font-size="42.5" text-anchor="middle">-5</text></g>
<g transform="translate(178.7,769.3) scale(0.92,1)"><text font-family="Liberation Serif, serif" font-size="42.5" text-anchor="middle">-4</text></g>
<g transform="translate(269.6,769.3) scale(0.92,1)"><text font-family="Liberation Serif, serif" font-size="42.5" text-anchor="middle">-3</text></g>
<g transform="translate(360.4,769.3) scale(0.92,1)"><text font-family="Liberation Serif, serif" font-size="42.5" text-anchor="middle">-2</text></g>
<g transform="translate(451.2,769.3) scale(0.92,1)"><text font-family="Liberation Serif, serif" font-size="42.5" text-anchor="middle">-1</text></g>
<g transform="translate(542.1,769.3) scale(0.92,1)"><text font-family="Liberation Serif, serif" font-size="42.5" text-anchor="middle">0</text></g>
<g transform="translate(632.9,769.3) scale(0.92,1)"><text font-family="Liberation Serif, serif" font-size="42.5" text-anchor="middle">1</text></g>
<g transform="translate(81.2,749.1) scale(0.92,1)"><text font-family="Liberation Serif, serif" font-size="42.5" text-anchor="end">-3</text></g>
<g transform="translate(81.2,658.9) scale(0.92,1)"><text font-family="Liberation Serif, serif" font-size="42.5" text-anchor="end">-2</text></g>
<g transform="translate(81.2,568.7) scale(0.92,1)"><text font-family="Liberation Serif, serif" font-size="42.5" text-anchor="end">-1</text></g>
<g transform="translate(81.2,478.5) scale(0.92,1)"><text font-family="Liberation Serif, serif" font-size="42.5" text-anchor="end">0</text></g>
<g transform="translate(81.2,388.3) scale(0.92,1)"><text font-family="Liberation Serif, serif" font-size="42.5" text-anchor="end">1</text></g>
<g transform="translate(81.2,298.1) scale(0.92,1)"><text font-family="Liberation Serif, serif" font-size="42.5" text-anchor="end">2</text></g>
<g transform="translate(81.2,207.9) scale(0.92,1)"><text font-family="Liberation Serif, serif" font-size="42.5" text-anchor="end">3</text></g>
<g transform="translate(25.2,44.0) scale(0.91,1)"><text font-family="Liberation Serif, serif" font-size="43.5">10<tspan dx="2.5" dy="-24.6" font-size="29.5">0</tspan></text></g>
<g transform="translate(9.0,134.0) scale(0.91,1)"><text font-family="Liberation Serif, serif" font-size="43.5">10<tspan dx="2.5" dy="-24.6" font-size="29.5">&#8722;2</tspan></text></g>
<g transform="translate(674.6,776.8) scale(0.91,1)"><text font-family="Liberation Serif, serif" font-size="43.5">10<tspan dx="2.5" dy="-24.6" font-size="29.5">&#8722;2</tspan></text></g>
<g transform="translate(773.3,776.8) scale(0.91,1)"><text font-family="Liberation Serif, serif" font-size="43.5">10<tspan dx="2.5" dy="-24.6" font-size="29.5">0</tspan></text></g>
<g transform="translate(97.7,719.8) scale(1.0,1)"><text font-family="Liberation Serif, serif" font-size="41">RGB in</text></g>
<g transform="translate(235.0,719.8) scale(0.882,1)"><text font-family="Liberation Mono, monospace" font-size="40" stroke="#000" stroke-width="0.35">AstroSpectroSB1</text></g>
<g transform="translate(281.0,811.4) scale(1.0,1)"><text font-family="Liberation Serif, serif" font-size="41">log<tspan font-style="italic" dx="3">f</tspan><tspan font-size="29" dy="5.4" dx="2">m,</tspan><tspan font-size="29" dx="-3">&#160;astro</tspan></text></g>
<g transform="translate(29.3,614.9) rotate(-90)"><text font-family="Liberation Serif, serif" font-size="41">log<tspan font-style="italic" dx="3">f</tspan><tspan font-size="29" dy="6.5" dx="1">m,</tspan><tspan font-size="29" dx="-3">&#160;spectro</tspan><tspan dy="-6.5">/</tspan><tspan font-style="italic">f</tspan><tspan font-size="29" dy="6.5" dx="1">m,</tspan><tspan font-size="29" dx="-3">&#160;astro</tspan></text></g>
</svg></body></html>
